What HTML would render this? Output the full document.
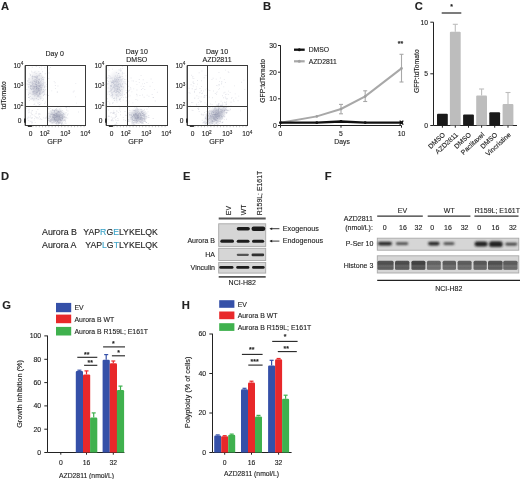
<!DOCTYPE html><html><head><meta charset="utf-8"><style>html,body{margin:0;padding:0;background:#fff;}svg{display:block;filter:blur(0.25px);}</style></head><body><svg width="520" height="479" viewBox="0 0 520 479" font-family='"Liberation Sans", Arial, sans-serif'><style>text{fill:#222;stroke:#222;stroke-width:0.12px}</style><rect width="520" height="479" fill="#fff"/><text x="1" y="10.3" font-size="11.2" fill="#111" stroke="#111" font-weight="bold">A</text>
<text x="263" y="10.3" font-size="11.2" fill="#111" stroke="#111" font-weight="bold">B</text>
<text x="414.7" y="10.3" font-size="11.2" fill="#111" stroke="#111" font-weight="bold">C</text>
<text x="1" y="179.6" font-size="11.2" fill="#111" stroke="#111" font-weight="bold">D</text>
<text x="182.9" y="179.6" font-size="11.2" fill="#111" stroke="#111" font-weight="bold">E</text>
<text x="324.8" y="179.6" font-size="11.2" fill="#111" stroke="#111" font-weight="bold">F</text>
<text x="2.3" y="308.9" font-size="11.2" fill="#111" stroke="#111" font-weight="bold">G</text>
<text x="181.7" y="308.9" font-size="11.2" fill="#111" stroke="#111" font-weight="bold">H</text>
<text x="54.7" y="55.9" font-size="7" text-anchor="middle">Day 0</text>
<clipPath id="cp0"><rect x="25.5" y="65.5" width="60" height="60"/></clipPath><g clip-path="url(#cp0)">
<defs><radialGradient id="g10"><stop offset="0" stop-color="#8c90a8" stop-opacity="0.42"/><stop offset="0.6" stop-color="#8c90a8" stop-opacity="0.189"/><stop offset="1" stop-color="#8c90a8" stop-opacity="0"/></radialGradient></defs>
<ellipse cx="36.5" cy="86.5" rx="10" ry="17" fill="url(#g10)"/>
<defs><radialGradient id="g12"><stop offset="0" stop-color="#8a90a8" stop-opacity="0.55"/><stop offset="0.6" stop-color="#8a90a8" stop-opacity="0.24750000000000003"/><stop offset="1" stop-color="#8a90a8" stop-opacity="0"/></radialGradient></defs>
<ellipse cx="56.5" cy="116.5" rx="11" ry="8.5" fill="url(#g12)"/>
<path d="M35.4 90.3h0.9v0.9h-0.9zM41.3 89.7h0.9v0.9h-0.9zM29.3 92.9h0.9v0.9h-0.9zM32.7 83.0h0.9v0.9h-0.9zM37.8 89.5h0.9v0.9h-0.9zM33.8 81.0h0.9v0.9h-0.9zM34.6 79.3h0.9v0.9h-0.9zM38.3 75.3h0.9v0.9h-0.9zM36.0 80.4h0.9v0.9h-0.9zM39.4 93.6h0.9v0.9h-0.9zM39.1 81.9h0.9v0.9h-0.9zM42.0 71.3h0.9v0.9h-0.9zM28.3 67.6h0.9v0.9h-0.9zM41.2 87.7h0.9v0.9h-0.9zM38.7 90.6h0.9v0.9h-0.9zM28.0 81.7h0.9v0.9h-0.9zM30.9 98.6h0.9v0.9h-0.9zM37.0 95.1h0.9v0.9h-0.9zM32.7 93.6h0.9v0.9h-0.9zM35.9 84.3h0.9v0.9h-0.9zM33.1 91.2h0.9v0.9h-0.9zM37.2 90.8h0.9v0.9h-0.9zM39.8 90.7h0.9v0.9h-0.9zM36.4 93.4h0.9v0.9h-0.9zM31.7 88.3h0.9v0.9h-0.9zM37.7 82.6h0.9v0.9h-0.9zM35.5 86.0h0.9v0.9h-0.9zM40.2 97.7h0.9v0.9h-0.9zM41.2 66.4h0.9v0.9h-0.9zM37.3 95.5h0.9v0.9h-0.9zM36.1 98.0h0.9v0.9h-0.9zM40.4 84.5h0.9v0.9h-0.9zM29.9 75.2h0.9v0.9h-0.9zM41.9 92.1h0.9v0.9h-0.9zM39.8 98.4h0.9v0.9h-0.9zM28.0 97.0h0.9v0.9h-0.9zM42.9 78.8h0.9v0.9h-0.9zM33.3 94.1h0.9v0.9h-0.9zM26.6 83.6h0.9v0.9h-0.9zM36.5 92.7h0.9v0.9h-0.9zM42.9 98.6h0.9v0.9h-0.9zM28.1 94.5h0.9v0.9h-0.9zM34.0 88.3h0.9v0.9h-0.9zM35.6 77.1h0.9v0.9h-0.9zM40.8 92.4h0.9v0.9h-0.9zM29.8 81.7h0.9v0.9h-0.9zM29.9 85.6h0.9v0.9h-0.9zM33.7 71.9h0.9v0.9h-0.9zM37.8 83.1h0.9v0.9h-0.9zM42.2 91.4h0.9v0.9h-0.9zM35.2 83.0h0.9v0.9h-0.9zM32.5 91.7h0.9v0.9h-0.9zM32.6 85.8h0.9v0.9h-0.9zM32.1 83.8h0.9v0.9h-0.9zM48.0 95.0h0.9v0.9h-0.9zM43.7 89.7h0.9v0.9h-0.9zM37.9 81.2h0.9v0.9h-0.9zM37.8 87.9h0.9v0.9h-0.9zM31.4 76.4h0.9v0.9h-0.9zM32.8 88.5h0.9v0.9h-0.9zM33.4 85.6h0.9v0.9h-0.9zM35.1 92.4h0.9v0.9h-0.9zM36.0 87.7h0.9v0.9h-0.9zM38.3 94.4h0.9v0.9h-0.9zM28.3 86.9h0.9v0.9h-0.9zM32.0 98.3h0.9v0.9h-0.9zM38.6 87.8h0.9v0.9h-0.9zM43.6 93.8h0.9v0.9h-0.9zM35.2 94.5h0.9v0.9h-0.9zM41.8 84.9h0.9v0.9h-0.9zM40.7 86.5h0.9v0.9h-0.9zM39.9 86.7h0.9v0.9h-0.9zM35.5 91.6h0.9v0.9h-0.9zM34.6 71.4h0.9v0.9h-0.9zM35.5 75.9h0.9v0.9h-0.9zM35.7 72.9h0.9v0.9h-0.9zM39.2 73.3h0.9v0.9h-0.9zM36.6 88.4h0.9v0.9h-0.9zM30.9 82.7h0.9v0.9h-0.9zM38.6 74.6h0.9v0.9h-0.9zM36.2 80.8h0.9v0.9h-0.9zM35.8 66.1h0.9v0.9h-0.9zM37.1 76.2h0.9v0.9h-0.9zM36.3 80.1h0.9v0.9h-0.9zM33.4 76.3h0.9v0.9h-0.9zM34.4 87.3h0.9v0.9h-0.9zM41.2 87.4h0.9v0.9h-0.9zM39.1 104.0h0.9v0.9h-0.9zM38.7 85.3h0.9v0.9h-0.9zM37.6 102.4h0.9v0.9h-0.9zM33.0 88.4h0.9v0.9h-0.9zM43.7 86.6h0.9v0.9h-0.9zM39.4 82.9h0.9v0.9h-0.9zM33.6 92.6h0.9v0.9h-0.9zM34.3 103.6h0.9v0.9h-0.9zM29.0 99.9h0.9v0.9h-0.9zM41.6 83.1h0.9v0.9h-0.9zM36.6 75.7h0.9v0.9h-0.9zM32.6 87.7h0.9v0.9h-0.9zM34.5 81.2h0.9v0.9h-0.9zM38.9 102.2h0.9v0.9h-0.9zM34.3 87.8h0.9v0.9h-0.9zM36.7 92.3h0.9v0.9h-0.9zM32.0 91.2h0.9v0.9h-0.9zM38.7 85.7h0.9v0.9h-0.9zM36.1 92.1h0.9v0.9h-0.9zM37.1 85.4h0.9v0.9h-0.9zM36.4 86.4h0.9v0.9h-0.9zM39.7 85.5h0.9v0.9h-0.9zM42.9 82.2h0.9v0.9h-0.9zM43.8 89.7h0.9v0.9h-0.9zM38.8 90.6h0.9v0.9h-0.9zM30.9 85.0h0.9v0.9h-0.9zM35.0 94.4h0.9v0.9h-0.9zM36.8 92.1h0.9v0.9h-0.9zM30.1 86.6h0.9v0.9h-0.9zM36.7 88.5h0.9v0.9h-0.9zM38.6 74.7h0.9v0.9h-0.9zM37.8 81.6h0.9v0.9h-0.9zM33.7 86.6h0.9v0.9h-0.9zM39.1 92.5h0.9v0.9h-0.9zM40.5 89.3h0.9v0.9h-0.9zM40.5 102.7h0.9v0.9h-0.9zM33.8 91.3h0.9v0.9h-0.9zM38.6 85.4h0.9v0.9h-0.9zM38.5 79.3h0.9v0.9h-0.9z" fill="#6c7290" fill-opacity="0.22"/>
<path d="M35.5 84.1h0.9v0.9h-0.9zM41.0 88.4h0.9v0.9h-0.9zM38.7 90.2h0.9v0.9h-0.9zM37.8 86.2h0.9v0.9h-0.9zM33.7 99.4h0.9v0.9h-0.9zM35.0 85.7h0.9v0.9h-0.9zM34.3 95.7h0.9v0.9h-0.9zM36.7 96.3h0.9v0.9h-0.9zM38.6 86.0h0.9v0.9h-0.9zM42.7 89.2h0.9v0.9h-0.9zM34.6 77.0h0.9v0.9h-0.9zM30.2 88.3h0.9v0.9h-0.9zM38.0 81.0h0.9v0.9h-0.9zM37.6 89.8h0.9v0.9h-0.9zM29.8 96.1h0.9v0.9h-0.9zM40.1 72.9h0.9v0.9h-0.9zM38.9 85.4h0.9v0.9h-0.9zM33.7 83.4h0.9v0.9h-0.9zM42.8 83.2h0.9v0.9h-0.9zM42.5 78.8h0.9v0.9h-0.9zM41.4 92.9h0.9v0.9h-0.9zM35.7 88.6h0.9v0.9h-0.9zM45.1 88.9h0.9v0.9h-0.9zM35.1 89.4h0.9v0.9h-0.9zM38.2 88.3h0.9v0.9h-0.9zM46.9 89.2h0.9v0.9h-0.9zM40.8 77.7h0.9v0.9h-0.9zM29.2 83.8h0.9v0.9h-0.9zM41.2 75.6h0.9v0.9h-0.9zM35.9 87.9h0.9v0.9h-0.9zM41.0 84.3h0.9v0.9h-0.9zM37.1 91.8h0.9v0.9h-0.9zM39.1 79.3h0.9v0.9h-0.9zM42.8 79.5h0.9v0.9h-0.9zM32.7 98.2h0.9v0.9h-0.9zM36.1 82.0h0.9v0.9h-0.9zM41.4 97.7h0.9v0.9h-0.9zM37.0 87.4h0.9v0.9h-0.9zM28.5 92.6h0.9v0.9h-0.9zM36.8 96.4h0.9v0.9h-0.9zM33.6 93.1h0.9v0.9h-0.9zM31.2 86.4h0.9v0.9h-0.9zM44.2 86.8h0.9v0.9h-0.9zM34.1 94.6h0.9v0.9h-0.9zM36.5 92.5h0.9v0.9h-0.9zM40.5 82.3h0.9v0.9h-0.9zM31.4 89.2h0.9v0.9h-0.9zM39.6 84.4h0.9v0.9h-0.9zM39.9 92.1h0.9v0.9h-0.9zM38.4 70.9h0.9v0.9h-0.9zM44.8 73.3h0.9v0.9h-0.9zM44.6 85.6h0.9v0.9h-0.9zM37.8 92.7h0.9v0.9h-0.9zM40.3 87.3h0.9v0.9h-0.9zM39.2 67.1h0.9v0.9h-0.9zM36.2 90.4h0.9v0.9h-0.9zM42.2 100.1h0.9v0.9h-0.9zM34.8 79.2h0.9v0.9h-0.9zM43.8 93.9h0.9v0.9h-0.9zM27.2 80.9h0.9v0.9h-0.9zM38.5 89.3h0.9v0.9h-0.9zM36.7 80.3h0.9v0.9h-0.9zM36.5 87.8h0.9v0.9h-0.9zM38.4 85.1h0.9v0.9h-0.9zM32.5 92.0h0.9v0.9h-0.9zM34.9 76.2h0.9v0.9h-0.9zM42.9 91.8h0.9v0.9h-0.9zM40.9 78.4h0.9v0.9h-0.9zM39.1 93.3h0.9v0.9h-0.9zM36.9 106.0h0.9v0.9h-0.9zM31.5 87.9h0.9v0.9h-0.9zM40.2 90.5h0.9v0.9h-0.9zM32.0 81.8h0.9v0.9h-0.9zM33.6 90.8h0.9v0.9h-0.9zM44.4 90.4h0.9v0.9h-0.9zM39.9 93.5h0.9v0.9h-0.9zM28.7 78.5h0.9v0.9h-0.9zM39.2 91.8h0.9v0.9h-0.9zM31.9 78.4h0.9v0.9h-0.9zM31.2 86.3h0.9v0.9h-0.9zM39.5 89.2h0.9v0.9h-0.9zM32.3 86.8h0.9v0.9h-0.9zM35.4 84.1h0.9v0.9h-0.9zM35.9 86.0h0.9v0.9h-0.9zM34.9 80.9h0.9v0.9h-0.9zM38.8 83.4h0.9v0.9h-0.9zM41.3 68.7h0.9v0.9h-0.9zM37.9 96.1h0.9v0.9h-0.9zM38.7 78.4h0.9v0.9h-0.9zM35.5 86.6h0.9v0.9h-0.9zM39.0 91.8h0.9v0.9h-0.9zM37.7 83.3h0.9v0.9h-0.9zM33.5 91.9h0.9v0.9h-0.9zM36.3 88.8h0.9v0.9h-0.9zM36.5 92.4h0.9v0.9h-0.9zM42.4 77.4h0.9v0.9h-0.9zM36.2 84.2h0.9v0.9h-0.9zM36.2 88.8h0.9v0.9h-0.9zM34.4 98.2h0.9v0.9h-0.9zM32.5 83.9h0.9v0.9h-0.9zM33.5 86.6h0.9v0.9h-0.9zM37.2 89.6h0.9v0.9h-0.9zM28.4 79.9h0.9v0.9h-0.9zM33.7 91.3h0.9v0.9h-0.9zM30.4 86.3h0.9v0.9h-0.9zM32.7 91.3h0.9v0.9h-0.9zM43.1 88.9h0.9v0.9h-0.9zM28.9 97.3h0.9v0.9h-0.9zM38.4 89.2h0.9v0.9h-0.9zM32.1 76.3h0.9v0.9h-0.9zM37.6 103.3h0.9v0.9h-0.9zM32.1 77.7h0.9v0.9h-0.9zM34.2 90.0h0.9v0.9h-0.9zM42.5 83.7h0.9v0.9h-0.9zM43.0 83.6h0.9v0.9h-0.9zM33.6 89.3h0.9v0.9h-0.9zM34.1 93.2h0.9v0.9h-0.9zM33.6 86.3h0.9v0.9h-0.9zM37.8 99.0h0.9v0.9h-0.9zM37.2 94.2h0.9v0.9h-0.9zM39.2 106.2h0.9v0.9h-0.9zM43.7 77.2h0.9v0.9h-0.9zM36.5 84.6h0.9v0.9h-0.9zM36.7 87.0h0.9v0.9h-0.9zM39.4 85.4h0.9v0.9h-0.9zM41.1 89.1h0.9v0.9h-0.9z" fill="#6c7290" fill-opacity="0.22"/>
<path d="M32.5 84.9h0.9v0.9h-0.9zM38.2 87.9h0.9v0.9h-0.9zM29.2 73.4h0.9v0.9h-0.9zM38.7 81.7h0.9v0.9h-0.9zM38.9 95.5h0.9v0.9h-0.9zM39.2 88.4h0.9v0.9h-0.9zM33.0 88.3h0.9v0.9h-0.9zM27.8 84.1h0.9v0.9h-0.9zM30.2 92.7h0.9v0.9h-0.9zM37.0 76.8h0.9v0.9h-0.9zM32.3 82.5h0.9v0.9h-0.9zM42.7 90.8h0.9v0.9h-0.9zM31.7 93.8h0.9v0.9h-0.9zM43.4 91.1h0.9v0.9h-0.9zM40.6 90.5h0.9v0.9h-0.9zM35.7 94.1h0.9v0.9h-0.9zM37.9 91.4h0.9v0.9h-0.9zM41.0 86.7h0.9v0.9h-0.9zM30.6 85.5h0.9v0.9h-0.9zM41.9 77.0h0.9v0.9h-0.9zM38.0 87.6h0.9v0.9h-0.9zM39.0 86.5h0.9v0.9h-0.9zM34.7 83.7h0.9v0.9h-0.9zM44.4 67.3h0.9v0.9h-0.9zM34.6 91.4h0.9v0.9h-0.9zM34.1 85.8h0.9v0.9h-0.9zM36.2 93.7h0.9v0.9h-0.9zM35.0 91.2h0.9v0.9h-0.9zM39.4 75.3h0.9v0.9h-0.9zM39.9 87.6h0.9v0.9h-0.9zM48.3 77.9h0.9v0.9h-0.9zM37.5 91.3h0.9v0.9h-0.9zM32.1 75.5h0.9v0.9h-0.9zM36.5 77.9h0.9v0.9h-0.9zM40.7 85.2h0.9v0.9h-0.9zM38.2 89.6h0.9v0.9h-0.9zM42.7 85.1h0.9v0.9h-0.9zM42.6 84.5h0.9v0.9h-0.9zM37.9 81.9h0.9v0.9h-0.9zM36.2 94.3h0.9v0.9h-0.9zM28.4 78.4h0.9v0.9h-0.9zM35.7 86.3h0.9v0.9h-0.9zM38.8 94.0h0.9v0.9h-0.9zM29.4 82.0h0.9v0.9h-0.9zM37.2 77.7h0.9v0.9h-0.9zM32.6 80.7h0.9v0.9h-0.9zM26.4 89.0h0.9v0.9h-0.9zM26.9 79.9h0.9v0.9h-0.9zM39.4 88.9h0.9v0.9h-0.9zM40.4 96.3h0.9v0.9h-0.9zM38.5 104.7h0.9v0.9h-0.9zM38.9 93.3h0.9v0.9h-0.9zM36.4 85.0h0.9v0.9h-0.9zM32.8 80.2h0.9v0.9h-0.9zM39.2 90.1h0.9v0.9h-0.9zM28.1 94.2h0.9v0.9h-0.9zM30.5 81.5h0.9v0.9h-0.9zM45.6 94.3h0.9v0.9h-0.9zM44.3 92.6h0.9v0.9h-0.9zM36.2 90.4h0.9v0.9h-0.9zM39.2 88.1h0.9v0.9h-0.9zM33.8 86.5h0.9v0.9h-0.9zM35.9 77.1h0.9v0.9h-0.9zM38.4 79.3h0.9v0.9h-0.9zM31.8 66.8h0.9v0.9h-0.9zM33.2 90.4h0.9v0.9h-0.9zM36.4 91.0h0.9v0.9h-0.9zM35.9 92.0h0.9v0.9h-0.9zM35.6 105.6h0.9v0.9h-0.9zM35.0 93.1h0.9v0.9h-0.9zM38.0 95.0h0.9v0.9h-0.9zM37.4 86.9h0.9v0.9h-0.9zM36.5 75.5h0.9v0.9h-0.9zM38.9 86.1h0.9v0.9h-0.9zM41.2 79.9h0.9v0.9h-0.9zM28.3 86.1h0.9v0.9h-0.9zM33.8 76.0h0.9v0.9h-0.9zM43.0 95.2h0.9v0.9h-0.9zM36.2 86.5h0.9v0.9h-0.9zM35.6 84.2h0.9v0.9h-0.9zM36.1 81.5h0.9v0.9h-0.9zM30.0 88.0h0.9v0.9h-0.9zM38.5 91.1h0.9v0.9h-0.9zM39.7 88.7h0.9v0.9h-0.9zM31.7 85.6h0.9v0.9h-0.9zM46.5 84.1h0.9v0.9h-0.9zM33.3 88.4h0.9v0.9h-0.9zM39.8 93.6h0.9v0.9h-0.9zM41.6 78.9h0.9v0.9h-0.9zM41.5 86.7h0.9v0.9h-0.9zM33.2 99.6h0.9v0.9h-0.9zM42.6 81.2h0.9v0.9h-0.9zM42.2 86.4h0.9v0.9h-0.9zM43.0 95.0h0.9v0.9h-0.9zM33.7 86.2h0.9v0.9h-0.9zM30.0 74.3h0.9v0.9h-0.9zM36.0 78.3h0.9v0.9h-0.9zM38.5 84.8h0.9v0.9h-0.9zM39.8 85.6h0.9v0.9h-0.9zM37.8 90.4h0.9v0.9h-0.9zM48.5 72.5h0.9v0.9h-0.9zM35.5 89.2h0.9v0.9h-0.9zM36.5 78.8h0.9v0.9h-0.9zM39.7 88.8h0.9v0.9h-0.9zM38.5 82.5h0.9v0.9h-0.9zM44.5 82.3h0.9v0.9h-0.9zM40.4 81.3h0.9v0.9h-0.9zM40.4 73.4h0.9v0.9h-0.9zM30.1 84.9h0.9v0.9h-0.9zM31.2 89.0h0.9v0.9h-0.9zM34.3 81.4h0.9v0.9h-0.9zM37.8 88.4h0.9v0.9h-0.9zM36.0 85.9h0.9v0.9h-0.9zM40.1 80.8h0.9v0.9h-0.9zM36.2 88.0h0.9v0.9h-0.9zM31.6 71.7h0.9v0.9h-0.9zM35.3 82.0h0.9v0.9h-0.9zM40.2 85.3h0.9v0.9h-0.9zM33.5 104.2h0.9v0.9h-0.9zM31.2 70.7h0.9v0.9h-0.9zM37.4 88.4h0.9v0.9h-0.9zM40.0 83.7h0.9v0.9h-0.9zM34.4 80.2h0.9v0.9h-0.9zM35.8 93.4h0.9v0.9h-0.9zM31.5 97.4h0.9v0.9h-0.9zM29.8 98.6h0.9v0.9h-0.9z" fill="#6c7290" fill-opacity="0.22"/>
<path d="M58.0 120.4h0.9v0.9h-0.9zM56.6 115.9h0.9v0.9h-0.9zM56.3 108.9h0.9v0.9h-0.9zM56.0 123.0h0.9v0.9h-0.9zM61.9 114.3h0.9v0.9h-0.9zM67.0 114.5h0.9v0.9h-0.9zM59.0 115.9h0.9v0.9h-0.9zM53.4 114.9h0.9v0.9h-0.9zM58.9 123.0h0.9v0.9h-0.9zM66.2 109.5h0.9v0.9h-0.9zM55.3 113.0h0.9v0.9h-0.9zM56.4 109.6h0.9v0.9h-0.9zM52.6 115.5h0.9v0.9h-0.9zM61.7 123.5h0.9v0.9h-0.9zM58.8 111.8h0.9v0.9h-0.9zM61.8 109.9h0.9v0.9h-0.9zM62.2 116.2h0.9v0.9h-0.9zM56.0 123.6h0.9v0.9h-0.9zM57.4 120.6h0.9v0.9h-0.9zM54.8 114.9h0.9v0.9h-0.9zM55.4 119.4h0.9v0.9h-0.9zM52.1 119.9h0.9v0.9h-0.9zM53.5 118.7h0.9v0.9h-0.9zM66.3 107.3h0.9v0.9h-0.9zM66.0 117.3h0.9v0.9h-0.9zM54.0 117.6h0.9v0.9h-0.9zM61.7 119.8h0.9v0.9h-0.9zM46.6 115.9h0.9v0.9h-0.9zM57.2 118.9h0.9v0.9h-0.9zM60.4 115.3h0.9v0.9h-0.9zM57.2 114.4h0.9v0.9h-0.9zM57.4 120.8h0.9v0.9h-0.9zM55.0 109.0h0.9v0.9h-0.9zM57.7 115.4h0.9v0.9h-0.9zM51.4 119.4h0.9v0.9h-0.9zM62.5 117.8h0.9v0.9h-0.9zM53.8 117.6h0.9v0.9h-0.9zM60.5 119.2h0.9v0.9h-0.9zM55.7 110.4h0.9v0.9h-0.9zM58.8 116.4h0.9v0.9h-0.9zM45.5 117.5h0.9v0.9h-0.9zM60.2 118.4h0.9v0.9h-0.9zM57.5 115.1h0.9v0.9h-0.9zM52.6 116.9h0.9v0.9h-0.9zM60.3 122.8h0.9v0.9h-0.9zM60.4 113.5h0.9v0.9h-0.9zM57.5 114.2h0.9v0.9h-0.9zM53.9 117.8h0.9v0.9h-0.9zM48.4 108.6h0.9v0.9h-0.9zM58.9 117.5h0.9v0.9h-0.9zM58.6 119.0h0.9v0.9h-0.9zM59.7 119.2h0.9v0.9h-0.9zM52.9 114.0h0.9v0.9h-0.9zM61.7 120.1h0.9v0.9h-0.9zM62.8 117.4h0.9v0.9h-0.9zM63.1 114.6h0.9v0.9h-0.9zM63.6 119.4h0.9v0.9h-0.9zM58.4 121.9h0.9v0.9h-0.9zM55.1 120.0h0.9v0.9h-0.9zM65.0 117.3h0.9v0.9h-0.9zM56.8 118.8h0.9v0.9h-0.9zM53.6 110.1h0.9v0.9h-0.9zM57.8 112.5h0.9v0.9h-0.9zM57.1 116.5h0.9v0.9h-0.9zM56.4 113.6h0.9v0.9h-0.9zM50.3 107.9h0.9v0.9h-0.9zM50.0 119.3h0.9v0.9h-0.9zM65.0 120.9h0.9v0.9h-0.9zM55.1 118.7h0.9v0.9h-0.9zM54.2 111.1h0.9v0.9h-0.9zM60.4 109.7h0.9v0.9h-0.9zM58.8 118.6h0.9v0.9h-0.9zM51.0 111.7h0.9v0.9h-0.9zM56.6 114.4h0.9v0.9h-0.9zM55.1 122.9h0.9v0.9h-0.9zM60.1 112.8h0.9v0.9h-0.9zM52.6 121.9h0.9v0.9h-0.9zM57.6 114.9h0.9v0.9h-0.9zM61.6 117.1h0.9v0.9h-0.9zM51.7 122.9h0.9v0.9h-0.9zM61.3 120.4h0.9v0.9h-0.9zM53.6 114.4h0.9v0.9h-0.9zM57.3 116.4h0.9v0.9h-0.9zM49.9 122.4h0.9v0.9h-0.9zM56.6 111.5h0.9v0.9h-0.9zM52.7 111.7h0.9v0.9h-0.9zM59.9 120.0h0.9v0.9h-0.9zM54.0 110.0h0.9v0.9h-0.9zM53.9 116.7h0.9v0.9h-0.9zM65.5 122.8h0.9v0.9h-0.9zM56.0 113.0h0.9v0.9h-0.9zM55.6 117.6h0.9v0.9h-0.9zM53.2 113.9h0.9v0.9h-0.9zM60.4 114.8h0.9v0.9h-0.9zM54.9 109.3h0.9v0.9h-0.9zM53.5 113.8h0.9v0.9h-0.9zM57.9 111.1h0.9v0.9h-0.9zM53.2 114.3h0.9v0.9h-0.9zM57.3 113.3h0.9v0.9h-0.9zM60.6 122.6h0.9v0.9h-0.9zM49.7 115.5h0.9v0.9h-0.9zM47.5 121.9h0.9v0.9h-0.9zM55.6 118.0h0.9v0.9h-0.9zM50.5 119.8h0.9v0.9h-0.9zM61.5 115.3h0.9v0.9h-0.9zM61.7 121.8h0.9v0.9h-0.9zM52.7 121.3h0.9v0.9h-0.9zM54.3 116.4h0.9v0.9h-0.9zM54.1 119.0h0.9v0.9h-0.9zM55.9 119.8h0.9v0.9h-0.9zM54.2 114.0h0.9v0.9h-0.9zM62.9 113.3h0.9v0.9h-0.9zM67.3 117.7h0.9v0.9h-0.9zM57.3 123.5h0.9v0.9h-0.9zM61.1 124.0h0.9v0.9h-0.9zM58.5 109.9h0.9v0.9h-0.9zM48.1 120.0h0.9v0.9h-0.9z" fill="#6c7290" fill-opacity="0.24"/>
<path d="M57.4 116.4h0.9v0.9h-0.9zM58.0 117.3h0.9v0.9h-0.9zM54.6 119.6h0.9v0.9h-0.9zM55.1 119.8h0.9v0.9h-0.9zM57.4 116.7h0.9v0.9h-0.9zM54.0 118.9h0.9v0.9h-0.9zM58.8 111.1h0.9v0.9h-0.9zM54.7 120.3h0.9v0.9h-0.9zM56.5 118.4h0.9v0.9h-0.9zM56.3 118.6h0.9v0.9h-0.9zM57.0 120.9h0.9v0.9h-0.9zM55.4 115.3h0.9v0.9h-0.9zM56.3 114.5h0.9v0.9h-0.9zM53.1 115.4h0.9v0.9h-0.9zM58.5 116.9h0.9v0.9h-0.9zM60.1 117.8h0.9v0.9h-0.9zM60.3 115.4h0.9v0.9h-0.9zM58.5 116.4h0.9v0.9h-0.9zM58.4 119.0h0.9v0.9h-0.9zM60.4 117.2h0.9v0.9h-0.9zM58.1 112.4h0.9v0.9h-0.9zM55.3 115.7h0.9v0.9h-0.9zM54.3 121.5h0.9v0.9h-0.9zM54.6 118.9h0.9v0.9h-0.9zM49.3 120.2h0.9v0.9h-0.9zM62.0 117.4h0.9v0.9h-0.9zM52.9 120.3h0.9v0.9h-0.9zM60.5 119.8h0.9v0.9h-0.9zM67.7 113.4h0.9v0.9h-0.9zM61.5 114.0h0.9v0.9h-0.9zM49.5 121.2h0.9v0.9h-0.9zM52.2 116.6h0.9v0.9h-0.9zM62.0 118.2h0.9v0.9h-0.9zM52.0 114.2h0.9v0.9h-0.9zM50.7 119.5h0.9v0.9h-0.9zM53.3 117.2h0.9v0.9h-0.9zM54.4 117.3h0.9v0.9h-0.9zM55.2 116.9h0.9v0.9h-0.9zM55.0 116.9h0.9v0.9h-0.9zM65.6 107.1h0.9v0.9h-0.9zM58.8 115.9h0.9v0.9h-0.9zM56.6 114.8h0.9v0.9h-0.9zM46.6 116.9h0.9v0.9h-0.9zM59.2 117.6h0.9v0.9h-0.9zM60.6 120.1h0.9v0.9h-0.9zM48.5 113.2h0.9v0.9h-0.9zM62.3 116.7h0.9v0.9h-0.9zM56.4 115.8h0.9v0.9h-0.9zM50.9 114.1h0.9v0.9h-0.9zM53.0 114.3h0.9v0.9h-0.9zM56.0 116.3h0.9v0.9h-0.9zM57.4 122.0h0.9v0.9h-0.9zM63.3 123.7h0.9v0.9h-0.9zM61.8 112.2h0.9v0.9h-0.9zM52.7 115.7h0.9v0.9h-0.9zM61.7 118.3h0.9v0.9h-0.9zM62.1 117.4h0.9v0.9h-0.9zM50.2 116.8h0.9v0.9h-0.9zM65.3 119.4h0.9v0.9h-0.9zM56.4 112.8h0.9v0.9h-0.9zM56.6 118.1h0.9v0.9h-0.9zM55.7 114.1h0.9v0.9h-0.9zM55.9 122.4h0.9v0.9h-0.9zM56.3 119.8h0.9v0.9h-0.9zM59.4 114.7h0.9v0.9h-0.9zM48.2 118.4h0.9v0.9h-0.9zM53.1 115.6h0.9v0.9h-0.9zM57.1 117.7h0.9v0.9h-0.9zM57.8 117.2h0.9v0.9h-0.9zM61.9 119.0h0.9v0.9h-0.9zM64.6 120.1h0.9v0.9h-0.9zM57.4 117.7h0.9v0.9h-0.9zM54.0 114.7h0.9v0.9h-0.9zM54.6 120.6h0.9v0.9h-0.9zM53.9 119.5h0.9v0.9h-0.9zM61.0 117.8h0.9v0.9h-0.9zM53.5 116.4h0.9v0.9h-0.9zM59.5 117.0h0.9v0.9h-0.9zM48.7 117.4h0.9v0.9h-0.9zM55.9 119.6h0.9v0.9h-0.9zM63.3 120.3h0.9v0.9h-0.9zM52.9 119.2h0.9v0.9h-0.9zM57.4 119.9h0.9v0.9h-0.9zM57.0 121.2h0.9v0.9h-0.9zM54.2 119.8h0.9v0.9h-0.9zM58.8 120.6h0.9v0.9h-0.9zM58.9 115.1h0.9v0.9h-0.9zM57.9 118.8h0.9v0.9h-0.9zM55.2 119.2h0.9v0.9h-0.9zM60.0 119.2h0.9v0.9h-0.9zM58.6 122.1h0.9v0.9h-0.9zM50.2 121.0h0.9v0.9h-0.9zM60.3 121.0h0.9v0.9h-0.9zM50.0 114.2h0.9v0.9h-0.9zM57.5 111.2h0.9v0.9h-0.9zM54.1 121.9h0.9v0.9h-0.9zM54.2 114.9h0.9v0.9h-0.9zM51.9 109.2h0.9v0.9h-0.9zM44.6 117.7h0.9v0.9h-0.9zM61.5 115.3h0.9v0.9h-0.9zM50.2 116.6h0.9v0.9h-0.9zM58.2 122.6h0.9v0.9h-0.9zM55.8 120.8h0.9v0.9h-0.9zM54.4 119.4h0.9v0.9h-0.9zM58.0 123.7h0.9v0.9h-0.9zM58.8 112.0h0.9v0.9h-0.9zM59.9 110.6h0.9v0.9h-0.9zM58.6 113.9h0.9v0.9h-0.9zM54.0 118.1h0.9v0.9h-0.9zM54.9 121.1h0.9v0.9h-0.9zM64.3 113.8h0.9v0.9h-0.9zM61.8 122.5h0.9v0.9h-0.9zM54.6 114.6h0.9v0.9h-0.9zM55.1 118.8h0.9v0.9h-0.9zM50.5 112.8h0.9v0.9h-0.9zM58.7 122.5h0.9v0.9h-0.9z" fill="#6c7290" fill-opacity="0.24"/>
<path d="M49.7 120.7h0.9v0.9h-0.9zM59.5 115.6h0.9v0.9h-0.9zM62.4 115.6h0.9v0.9h-0.9zM63.9 117.2h0.9v0.9h-0.9zM57.0 121.3h0.9v0.9h-0.9zM51.9 118.9h0.9v0.9h-0.9zM59.8 111.1h0.9v0.9h-0.9zM56.9 115.5h0.9v0.9h-0.9zM62.0 118.0h0.9v0.9h-0.9zM60.7 119.5h0.9v0.9h-0.9zM51.7 113.1h0.9v0.9h-0.9zM58.5 114.3h0.9v0.9h-0.9zM56.6 119.9h0.9v0.9h-0.9zM53.3 116.9h0.9v0.9h-0.9zM48.5 118.1h0.9v0.9h-0.9zM58.6 118.7h0.9v0.9h-0.9zM59.7 113.9h0.9v0.9h-0.9zM51.5 114.0h0.9v0.9h-0.9zM56.3 122.1h0.9v0.9h-0.9zM55.3 114.8h0.9v0.9h-0.9zM58.4 117.7h0.9v0.9h-0.9zM60.0 122.0h0.9v0.9h-0.9zM53.7 120.1h0.9v0.9h-0.9zM56.1 114.5h0.9v0.9h-0.9zM48.9 121.4h0.9v0.9h-0.9zM50.4 110.6h0.9v0.9h-0.9zM58.7 119.5h0.9v0.9h-0.9zM60.4 107.7h0.9v0.9h-0.9zM55.1 117.1h0.9v0.9h-0.9zM57.7 115.0h0.9v0.9h-0.9zM57.8 114.9h0.9v0.9h-0.9zM58.9 119.0h0.9v0.9h-0.9zM56.6 115.9h0.9v0.9h-0.9zM53.9 114.7h0.9v0.9h-0.9zM52.0 118.3h0.9v0.9h-0.9zM57.2 110.4h0.9v0.9h-0.9zM59.7 119.9h0.9v0.9h-0.9zM55.3 115.8h0.9v0.9h-0.9zM52.2 116.9h0.9v0.9h-0.9zM55.6 110.1h0.9v0.9h-0.9zM58.9 108.5h0.9v0.9h-0.9zM59.3 115.2h0.9v0.9h-0.9zM57.4 119.9h0.9v0.9h-0.9zM52.5 109.7h0.9v0.9h-0.9zM53.8 114.3h0.9v0.9h-0.9zM53.5 114.2h0.9v0.9h-0.9zM51.7 122.0h0.9v0.9h-0.9zM57.9 114.4h0.9v0.9h-0.9zM56.4 117.2h0.9v0.9h-0.9zM47.2 116.4h0.9v0.9h-0.9zM60.6 117.1h0.9v0.9h-0.9zM54.0 115.6h0.9v0.9h-0.9zM56.6 119.2h0.9v0.9h-0.9zM53.7 118.7h0.9v0.9h-0.9zM53.6 113.7h0.9v0.9h-0.9zM53.8 118.6h0.9v0.9h-0.9zM58.8 116.2h0.9v0.9h-0.9zM57.6 114.8h0.9v0.9h-0.9zM57.9 111.1h0.9v0.9h-0.9zM56.2 112.8h0.9v0.9h-0.9zM52.8 122.4h0.9v0.9h-0.9zM52.1 115.7h0.9v0.9h-0.9zM59.5 116.4h0.9v0.9h-0.9zM56.1 107.9h0.9v0.9h-0.9zM51.9 112.7h0.9v0.9h-0.9zM53.7 109.9h0.9v0.9h-0.9zM58.0 122.2h0.9v0.9h-0.9zM64.4 122.4h0.9v0.9h-0.9zM54.3 112.0h0.9v0.9h-0.9zM51.2 122.3h0.9v0.9h-0.9zM65.6 112.3h0.9v0.9h-0.9zM61.1 111.3h0.9v0.9h-0.9zM58.1 118.0h0.9v0.9h-0.9zM59.9 117.4h0.9v0.9h-0.9zM61.6 116.0h0.9v0.9h-0.9zM49.5 119.5h0.9v0.9h-0.9zM57.7 115.7h0.9v0.9h-0.9zM57.4 106.5h0.9v0.9h-0.9zM58.6 121.1h0.9v0.9h-0.9zM54.9 112.8h0.9v0.9h-0.9zM54.0 110.7h0.9v0.9h-0.9zM57.9 116.0h0.9v0.9h-0.9zM60.7 114.4h0.9v0.9h-0.9zM49.3 115.7h0.9v0.9h-0.9zM61.2 123.1h0.9v0.9h-0.9zM57.3 112.1h0.9v0.9h-0.9zM57.8 120.0h0.9v0.9h-0.9zM56.6 120.4h0.9v0.9h-0.9zM63.5 116.0h0.9v0.9h-0.9zM64.3 116.3h0.9v0.9h-0.9zM58.8 118.6h0.9v0.9h-0.9zM54.7 112.8h0.9v0.9h-0.9zM50.5 120.5h0.9v0.9h-0.9zM53.7 118.3h0.9v0.9h-0.9zM60.5 112.4h0.9v0.9h-0.9zM60.2 119.3h0.9v0.9h-0.9zM52.2 118.9h0.9v0.9h-0.9zM59.1 122.1h0.9v0.9h-0.9zM61.9 118.1h0.9v0.9h-0.9zM61.1 119.9h0.9v0.9h-0.9zM59.0 112.9h0.9v0.9h-0.9zM50.7 121.0h0.9v0.9h-0.9zM61.1 117.3h0.9v0.9h-0.9zM57.7 123.2h0.9v0.9h-0.9zM54.1 118.6h0.9v0.9h-0.9zM51.0 117.9h0.9v0.9h-0.9zM52.9 117.6h0.9v0.9h-0.9zM58.6 114.6h0.9v0.9h-0.9zM63.5 117.1h0.9v0.9h-0.9zM50.9 119.4h0.9v0.9h-0.9zM64.2 119.5h0.9v0.9h-0.9zM56.0 116.5h0.9v0.9h-0.9zM58.5 118.3h0.9v0.9h-0.9zM62.9 113.2h0.9v0.9h-0.9zM51.9 110.0h0.9v0.9h-0.9zM49.4 115.8h0.9v0.9h-0.9z" fill="#6c7290" fill-opacity="0.24"/>
<path d="M29.8 115.7h0.9v0.9h-0.9zM30.8 117.6h0.9v0.9h-0.9zM27.2 118.3h0.9v0.9h-0.9zM35.4 116.5h0.9v0.9h-0.9zM28.7 106.4h0.9v0.9h-0.9zM32.1 110.1h0.9v0.9h-0.9zM27.9 120.0h0.9v0.9h-0.9zM29.5 116.9h0.9v0.9h-0.9zM31.5 123.3h0.9v0.9h-0.9zM38.2 112.9h0.9v0.9h-0.9zM39.5 113.8h0.9v0.9h-0.9zM28.3 112.3h0.9v0.9h-0.9zM30.7 112.2h0.9v0.9h-0.9zM35.2 106.1h0.9v0.9h-0.9zM29.9 115.5h0.9v0.9h-0.9zM26.2 107.9h0.9v0.9h-0.9zM35.9 110.9h0.9v0.9h-0.9zM39.1 116.3h0.9v0.9h-0.9z" fill="#a4a8bc" fill-opacity="0.3"/>
<path d="M33.8 119.7h0.9v0.9h-0.9zM27.6 117.3h0.9v0.9h-0.9zM28.6 108.7h0.9v0.9h-0.9zM28.9 111.6h0.9v0.9h-0.9zM27.8 116.6h0.9v0.9h-0.9zM29.7 121.2h0.9v0.9h-0.9zM35.4 113.3h0.9v0.9h-0.9zM28.5 109.7h0.9v0.9h-0.9zM27.7 110.4h0.9v0.9h-0.9zM37.5 118.3h0.9v0.9h-0.9zM28.7 109.6h0.9v0.9h-0.9zM31.3 110.6h0.9v0.9h-0.9zM33.7 114.7h0.9v0.9h-0.9zM30.8 113.0h0.9v0.9h-0.9zM31.8 122.0h0.9v0.9h-0.9zM39.6 119.2h0.9v0.9h-0.9zM38.2 114.3h0.9v0.9h-0.9zM31.5 118.2h0.9v0.9h-0.9z" fill="#a4a8bc" fill-opacity="0.3"/>
<path d="M31.8 117.1h0.9v0.9h-0.9zM43.1 117.4h0.9v0.9h-0.9zM29.8 120.7h0.9v0.9h-0.9zM40.2 118.2h0.9v0.9h-0.9zM34.6 116.2h0.9v0.9h-0.9zM34.8 122.2h0.9v0.9h-0.9zM35.9 112.5h0.9v0.9h-0.9zM31.4 120.8h0.9v0.9h-0.9zM41.3 119.0h0.9v0.9h-0.9zM36.7 117.1h0.9v0.9h-0.9zM39.3 113.3h0.9v0.9h-0.9zM32.0 113.9h0.9v0.9h-0.9zM34.1 118.2h0.9v0.9h-0.9zM37.4 109.1h0.9v0.9h-0.9zM31.3 121.8h0.9v0.9h-0.9zM35.9 117.6h0.9v0.9h-0.9zM38.4 117.4h0.9v0.9h-0.9zM31.4 114.3h0.9v0.9h-0.9z" fill="#a4a8bc" fill-opacity="0.3"/>
<path d="M56.7 91.7h0.9v0.9h-0.9zM76.1 102.7h0.9v0.9h-0.9zM54.7 82.3h0.9v0.9h-0.9zM54.9 85.0h0.9v0.9h-0.9zM54.7 121.0h0.9v0.9h-0.9zM57.5 85.5h0.9v0.9h-0.9zM51.3 90.4h0.9v0.9h-0.9zM68.7 106.9h0.9v0.9h-0.9zM39.6 103.9h0.9v0.9h-0.9zM49.0 68.5h0.9v0.9h-0.9z" fill="#a4a8bc" fill-opacity="0.3"/>
<path d="M73.7 90.5h0.9v0.9h-0.9zM57.1 91.6h0.9v0.9h-0.9zM75.2 96.4h0.9v0.9h-0.9zM42.5 76.4h0.9v0.9h-0.9zM55.1 88.2h0.9v0.9h-0.9zM48.2 108.0h0.9v0.9h-0.9zM44.9 101.6h0.9v0.9h-0.9zM44.2 103.1h0.9v0.9h-0.9zM75.3 82.9h0.9v0.9h-0.9zM47.4 104.2h0.9v0.9h-0.9z" fill="#a4a8bc" fill-opacity="0.3"/>
<path d="M78.1 111.6h0.9v0.9h-0.9zM53.8 81.2h0.9v0.9h-0.9zM50.1 67.0h0.9v0.9h-0.9zM28.5 96.8h0.9v0.9h-0.9zM72.8 91.6h0.9v0.9h-0.9zM67.5 110.6h0.9v0.9h-0.9zM38.8 96.8h0.9v0.9h-0.9zM46.9 80.9h0.9v0.9h-0.9zM46.4 85.9h0.9v0.9h-0.9z" fill="#a4a8bc" fill-opacity="0.3"/>
</g>
<rect x="25.5" y="65.5" width="60" height="60" fill="none" stroke="#3a3a3a" stroke-width="1"/>
<line x1="24.9" y1="65.5" x2="24.9" y2="125.5" stroke="#555" stroke-width="0.8"/>
<line x1="47.5" y1="65.5" x2="47.5" y2="125.5" stroke="#3a3a3a" stroke-width="1"/>
<line x1="25.5" y1="106.5" x2="85.5" y2="106.5" stroke="#3a3a3a" stroke-width="1"/>
<text x="23.3" y="67.8" font-size="6.6" text-anchor="end">10<tspan font-size="4.6" dy="-2.6">4</tspan></text>
<text x="23.3" y="88.4" font-size="6.6" text-anchor="end">10<tspan font-size="4.6" dy="-2.6">3</tspan></text>
<text x="23.3" y="108.6" font-size="6.6" text-anchor="end">10<tspan font-size="4.6" dy="-2.6">2</tspan></text>
<text x="21.3" y="123" font-size="6.6" text-anchor="end">0</text>
<text x="30.6" y="136.2" font-size="6.6" text-anchor="middle">0</text>
<text x="44.7" y="136.2" font-size="6.6" text-anchor="middle">10<tspan font-size="4.6" dy="-2.6">2</tspan></text>
<text x="65.3" y="136.2" font-size="6.6" text-anchor="middle">10<tspan font-size="4.6" dy="-2.6">3</tspan></text>
<text x="85.3" y="136.2" font-size="6.6" text-anchor="middle">10<tspan font-size="4.6" dy="-2.6">4</tspan></text>
<text x="54.6" y="144.4" font-size="7.2" text-anchor="middle">GFP</text>
<line x1="32.5" y1="126.7" x2="85.5" y2="126.7" stroke="#9a9a9a" stroke-width="0.8" stroke-dasharray="0.8 2.4"/>
<line x1="24.9" y1="118.6" x2="24.9" y2="122.7" stroke="#222" stroke-width="1.6"/>
<line x1="27.8" y1="126.2" x2="31.9" y2="126.2" stroke="#222" stroke-width="1.4"/>
<text x="136.8" y="53.6" font-size="7" text-anchor="middle">Day 10</text>
<text x="136.8" y="61.6" font-size="7" text-anchor="middle">DMSO</text>
<clipPath id="cp1"><rect x="106.5" y="65.5" width="61" height="60"/></clipPath><g clip-path="url(#cp1)">
<defs><radialGradient id="g46"><stop offset="0" stop-color="#989cb4" stop-opacity="0.35"/><stop offset="0.6" stop-color="#989cb4" stop-opacity="0.1575"/><stop offset="1" stop-color="#989cb4" stop-opacity="0"/></radialGradient></defs>
<ellipse cx="116.5" cy="86" rx="10" ry="17" fill="url(#g46)"/>
<defs><radialGradient id="g48"><stop offset="0" stop-color="#8a90a8" stop-opacity="0.5"/><stop offset="0.6" stop-color="#8a90a8" stop-opacity="0.225"/><stop offset="1" stop-color="#8a90a8" stop-opacity="0"/></radialGradient></defs>
<ellipse cx="137.5" cy="116" rx="11" ry="8.5" fill="url(#g48)"/>
<path d="M125.8 83.7h0.9v0.9h-0.9zM111.1 95.0h0.9v0.9h-0.9zM120.4 86.1h0.9v0.9h-0.9zM125.6 90.2h0.9v0.9h-0.9zM121.9 73.6h0.9v0.9h-0.9zM108.1 81.0h0.9v0.9h-0.9zM110.6 78.0h0.9v0.9h-0.9zM117.9 76.9h0.9v0.9h-0.9zM107.1 77.3h0.9v0.9h-0.9zM117.7 91.2h0.9v0.9h-0.9zM111.6 91.9h0.9v0.9h-0.9zM122.1 93.4h0.9v0.9h-0.9zM115.5 85.8h0.9v0.9h-0.9zM112.9 83.3h0.9v0.9h-0.9zM121.9 66.1h0.9v0.9h-0.9zM117.9 87.4h0.9v0.9h-0.9zM112.4 81.1h0.9v0.9h-0.9zM108.6 69.6h0.9v0.9h-0.9zM131.6 80.4h0.9v0.9h-0.9zM125.4 75.4h0.9v0.9h-0.9zM107.7 66.3h0.9v0.9h-0.9zM109.4 78.2h0.9v0.9h-0.9zM113.5 86.6h0.9v0.9h-0.9zM115.8 80.5h0.9v0.9h-0.9zM123.5 72.8h0.9v0.9h-0.9zM120.4 76.0h0.9v0.9h-0.9zM114.6 82.6h0.9v0.9h-0.9zM122.7 99.6h0.9v0.9h-0.9zM118.9 79.5h0.9v0.9h-0.9zM126.9 101.5h0.9v0.9h-0.9zM112.4 87.0h0.9v0.9h-0.9zM119.9 90.0h0.9v0.9h-0.9zM117.4 85.8h0.9v0.9h-0.9zM119.5 77.0h0.9v0.9h-0.9zM114.0 84.0h0.9v0.9h-0.9zM118.4 87.7h0.9v0.9h-0.9zM110.5 77.3h0.9v0.9h-0.9zM115.9 77.3h0.9v0.9h-0.9zM122.0 71.8h0.9v0.9h-0.9zM119.2 81.2h0.9v0.9h-0.9zM111.9 94.3h0.9v0.9h-0.9zM122.2 95.3h0.9v0.9h-0.9zM110.4 95.6h0.9v0.9h-0.9zM110.4 85.1h0.9v0.9h-0.9zM117.5 89.6h0.9v0.9h-0.9zM115.5 80.7h0.9v0.9h-0.9zM115.8 82.2h0.9v0.9h-0.9zM110.6 86.4h0.9v0.9h-0.9zM108.2 76.8h0.9v0.9h-0.9zM121.9 68.2h0.9v0.9h-0.9zM107.1 98.3h0.9v0.9h-0.9zM120.2 68.3h0.9v0.9h-0.9zM127.8 80.8h0.9v0.9h-0.9zM114.6 85.4h0.9v0.9h-0.9zM125.0 83.2h0.9v0.9h-0.9zM117.5 84.5h0.9v0.9h-0.9zM113.8 81.5h0.9v0.9h-0.9zM114.0 97.5h0.9v0.9h-0.9zM115.9 95.5h0.9v0.9h-0.9zM115.1 94.4h0.9v0.9h-0.9zM120.2 76.1h0.9v0.9h-0.9zM110.4 88.6h0.9v0.9h-0.9zM117.6 96.0h0.9v0.9h-0.9zM118.9 81.2h0.9v0.9h-0.9zM114.1 100.0h0.9v0.9h-0.9zM121.1 89.2h0.9v0.9h-0.9zM124.4 82.5h0.9v0.9h-0.9zM109.2 74.9h0.9v0.9h-0.9zM116.8 76.4h0.9v0.9h-0.9zM116.8 85.4h0.9v0.9h-0.9zM118.6 69.1h0.9v0.9h-0.9zM115.8 79.0h0.9v0.9h-0.9zM118.7 69.9h0.9v0.9h-0.9zM120.5 94.8h0.9v0.9h-0.9zM121.8 72.5h0.9v0.9h-0.9zM111.1 82.0h0.9v0.9h-0.9zM114.5 78.2h0.9v0.9h-0.9zM113.8 76.7h0.9v0.9h-0.9zM107.3 78.1h0.9v0.9h-0.9zM121.1 85.8h0.9v0.9h-0.9zM125.8 83.9h0.9v0.9h-0.9zM120.5 80.3h0.9v0.9h-0.9zM117.7 91.0h0.9v0.9h-0.9zM109.0 93.9h0.9v0.9h-0.9zM120.1 76.5h0.9v0.9h-0.9zM115.8 98.2h0.9v0.9h-0.9zM116.6 82.0h0.9v0.9h-0.9zM109.6 76.0h0.9v0.9h-0.9zM115.5 78.2h0.9v0.9h-0.9zM112.5 82.1h0.9v0.9h-0.9zM110.0 90.4h0.9v0.9h-0.9zM112.3 102.7h0.9v0.9h-0.9zM115.8 80.1h0.9v0.9h-0.9zM116.6 91.2h0.9v0.9h-0.9zM114.2 84.4h0.9v0.9h-0.9zM123.2 97.1h0.9v0.9h-0.9zM116.6 88.3h0.9v0.9h-0.9zM119.8 89.7h0.9v0.9h-0.9zM117.5 81.3h0.9v0.9h-0.9zM119.7 106.2h0.9v0.9h-0.9zM115.5 79.6h0.9v0.9h-0.9zM113.8 82.3h0.9v0.9h-0.9z" fill="#7a80a0" fill-opacity="0.2"/>
<path d="M113.0 81.7h0.9v0.9h-0.9zM108.0 75.2h0.9v0.9h-0.9zM110.6 91.3h0.9v0.9h-0.9zM120.3 70.2h0.9v0.9h-0.9zM112.1 68.7h0.9v0.9h-0.9zM119.1 99.5h0.9v0.9h-0.9zM113.2 87.2h0.9v0.9h-0.9zM124.2 94.1h0.9v0.9h-0.9zM121.1 79.2h0.9v0.9h-0.9zM119.8 98.0h0.9v0.9h-0.9zM117.4 88.1h0.9v0.9h-0.9zM117.2 81.2h0.9v0.9h-0.9zM131.4 91.4h0.9v0.9h-0.9zM117.5 77.2h0.9v0.9h-0.9zM116.5 88.4h0.9v0.9h-0.9zM107.0 79.9h0.9v0.9h-0.9zM125.7 100.7h0.9v0.9h-0.9zM114.1 78.6h0.9v0.9h-0.9zM116.7 88.3h0.9v0.9h-0.9zM117.3 83.7h0.9v0.9h-0.9zM119.1 87.6h0.9v0.9h-0.9zM120.0 90.6h0.9v0.9h-0.9zM116.7 90.7h0.9v0.9h-0.9zM127.7 90.4h0.9v0.9h-0.9zM120.0 93.1h0.9v0.9h-0.9zM112.1 88.3h0.9v0.9h-0.9zM116.8 88.9h0.9v0.9h-0.9zM116.0 94.7h0.9v0.9h-0.9zM119.4 94.6h0.9v0.9h-0.9zM126.4 92.3h0.9v0.9h-0.9zM116.3 91.7h0.9v0.9h-0.9zM117.9 84.2h0.9v0.9h-0.9zM118.1 78.7h0.9v0.9h-0.9zM118.6 94.4h0.9v0.9h-0.9zM120.1 99.2h0.9v0.9h-0.9zM112.0 79.7h0.9v0.9h-0.9zM119.0 75.6h0.9v0.9h-0.9zM116.2 83.2h0.9v0.9h-0.9zM115.6 86.1h0.9v0.9h-0.9zM120.2 100.8h0.9v0.9h-0.9zM122.6 86.3h0.9v0.9h-0.9zM120.6 70.4h0.9v0.9h-0.9zM125.9 92.5h0.9v0.9h-0.9zM115.5 85.6h0.9v0.9h-0.9zM116.5 101.7h0.9v0.9h-0.9zM123.2 87.3h0.9v0.9h-0.9zM121.9 76.1h0.9v0.9h-0.9zM116.0 90.3h0.9v0.9h-0.9zM120.4 94.9h0.9v0.9h-0.9zM112.5 91.7h0.9v0.9h-0.9zM117.3 78.4h0.9v0.9h-0.9zM120.4 70.9h0.9v0.9h-0.9zM116.5 94.9h0.9v0.9h-0.9zM111.1 90.1h0.9v0.9h-0.9zM123.0 81.4h0.9v0.9h-0.9zM114.0 80.8h0.9v0.9h-0.9zM111.2 84.8h0.9v0.9h-0.9zM121.4 93.8h0.9v0.9h-0.9zM113.7 85.0h0.9v0.9h-0.9zM115.6 92.2h0.9v0.9h-0.9zM109.9 80.7h0.9v0.9h-0.9zM112.2 79.8h0.9v0.9h-0.9zM111.6 93.6h0.9v0.9h-0.9zM111.1 82.6h0.9v0.9h-0.9zM117.5 88.7h0.9v0.9h-0.9zM108.9 91.1h0.9v0.9h-0.9zM119.1 92.4h0.9v0.9h-0.9zM119.1 76.7h0.9v0.9h-0.9zM118.2 73.0h0.9v0.9h-0.9zM117.2 74.8h0.9v0.9h-0.9zM112.7 80.8h0.9v0.9h-0.9zM111.6 92.9h0.9v0.9h-0.9zM111.1 86.0h0.9v0.9h-0.9zM114.6 84.2h0.9v0.9h-0.9zM119.8 84.5h0.9v0.9h-0.9zM124.1 79.0h0.9v0.9h-0.9zM112.3 94.9h0.9v0.9h-0.9zM120.4 90.8h0.9v0.9h-0.9zM122.1 83.8h0.9v0.9h-0.9zM107.5 83.1h0.9v0.9h-0.9zM114.1 85.7h0.9v0.9h-0.9zM118.8 91.9h0.9v0.9h-0.9zM111.8 77.6h0.9v0.9h-0.9zM113.8 98.2h0.9v0.9h-0.9zM114.9 81.1h0.9v0.9h-0.9zM111.9 82.1h0.9v0.9h-0.9zM119.0 89.1h0.9v0.9h-0.9zM117.2 86.5h0.9v0.9h-0.9zM118.4 91.9h0.9v0.9h-0.9zM111.8 88.6h0.9v0.9h-0.9zM116.5 88.5h0.9v0.9h-0.9zM118.2 79.4h0.9v0.9h-0.9zM112.8 102.2h0.9v0.9h-0.9zM114.5 90.2h0.9v0.9h-0.9zM111.7 84.2h0.9v0.9h-0.9zM114.3 91.1h0.9v0.9h-0.9zM114.2 79.3h0.9v0.9h-0.9zM117.8 82.2h0.9v0.9h-0.9zM111.7 96.9h0.9v0.9h-0.9zM112.9 85.8h0.9v0.9h-0.9zM121.9 79.3h0.9v0.9h-0.9zM118.3 82.9h0.9v0.9h-0.9z" fill="#7a80a0" fill-opacity="0.2"/>
<path d="M107.1 93.7h0.9v0.9h-0.9zM117.9 79.5h0.9v0.9h-0.9zM120.7 69.7h0.9v0.9h-0.9zM112.9 83.0h0.9v0.9h-0.9zM115.3 88.9h0.9v0.9h-0.9zM119.8 83.4h0.9v0.9h-0.9zM116.3 100.2h0.9v0.9h-0.9zM117.0 79.9h0.9v0.9h-0.9zM109.9 87.7h0.9v0.9h-0.9zM112.3 94.3h0.9v0.9h-0.9zM121.3 85.9h0.9v0.9h-0.9zM112.7 81.5h0.9v0.9h-0.9zM120.3 78.7h0.9v0.9h-0.9zM124.6 81.2h0.9v0.9h-0.9zM117.5 91.1h0.9v0.9h-0.9zM118.0 84.3h0.9v0.9h-0.9zM116.2 96.9h0.9v0.9h-0.9zM113.7 87.6h0.9v0.9h-0.9zM116.3 93.9h0.9v0.9h-0.9zM118.3 73.0h0.9v0.9h-0.9zM114.6 79.6h0.9v0.9h-0.9zM116.4 90.4h0.9v0.9h-0.9zM116.2 84.8h0.9v0.9h-0.9zM118.6 105.5h0.9v0.9h-0.9zM125.9 97.2h0.9v0.9h-0.9zM119.0 77.3h0.9v0.9h-0.9zM115.1 75.5h0.9v0.9h-0.9zM118.7 91.6h0.9v0.9h-0.9zM112.0 102.7h0.9v0.9h-0.9zM114.8 80.9h0.9v0.9h-0.9zM127.9 85.8h0.9v0.9h-0.9zM115.9 79.0h0.9v0.9h-0.9zM116.7 86.4h0.9v0.9h-0.9zM119.5 82.9h0.9v0.9h-0.9zM115.7 80.5h0.9v0.9h-0.9zM116.0 91.7h0.9v0.9h-0.9zM117.0 89.0h0.9v0.9h-0.9zM118.2 78.9h0.9v0.9h-0.9zM121.3 80.8h0.9v0.9h-0.9zM114.5 89.8h0.9v0.9h-0.9zM110.8 89.4h0.9v0.9h-0.9zM113.1 98.1h0.9v0.9h-0.9zM122.1 83.2h0.9v0.9h-0.9zM120.0 84.8h0.9v0.9h-0.9zM118.7 86.7h0.9v0.9h-0.9zM111.1 81.2h0.9v0.9h-0.9zM119.0 87.2h0.9v0.9h-0.9zM114.2 88.6h0.9v0.9h-0.9zM116.4 80.9h0.9v0.9h-0.9zM119.8 77.2h0.9v0.9h-0.9zM116.8 93.7h0.9v0.9h-0.9zM122.2 89.4h0.9v0.9h-0.9zM113.3 80.0h0.9v0.9h-0.9zM119.2 86.6h0.9v0.9h-0.9zM120.3 69.6h0.9v0.9h-0.9zM114.8 79.9h0.9v0.9h-0.9zM120.4 83.9h0.9v0.9h-0.9zM122.3 83.2h0.9v0.9h-0.9zM118.4 89.2h0.9v0.9h-0.9zM121.9 91.6h0.9v0.9h-0.9zM118.9 98.8h0.9v0.9h-0.9zM115.1 91.9h0.9v0.9h-0.9zM121.2 86.6h0.9v0.9h-0.9zM113.3 110.6h0.9v0.9h-0.9zM120.2 79.4h0.9v0.9h-0.9zM119.3 89.8h0.9v0.9h-0.9zM112.0 96.2h0.9v0.9h-0.9zM115.9 72.0h0.9v0.9h-0.9zM118.7 83.7h0.9v0.9h-0.9zM111.8 82.1h0.9v0.9h-0.9zM111.2 88.8h0.9v0.9h-0.9zM113.2 91.0h0.9v0.9h-0.9zM118.2 92.6h0.9v0.9h-0.9zM120.4 82.4h0.9v0.9h-0.9zM118.1 86.2h0.9v0.9h-0.9zM110.5 84.9h0.9v0.9h-0.9zM109.3 102.6h0.9v0.9h-0.9zM111.3 92.4h0.9v0.9h-0.9zM110.0 90.4h0.9v0.9h-0.9zM118.6 92.5h0.9v0.9h-0.9zM122.5 78.0h0.9v0.9h-0.9zM110.6 85.3h0.9v0.9h-0.9zM115.5 84.1h0.9v0.9h-0.9zM120.8 86.2h0.9v0.9h-0.9zM110.2 86.1h0.9v0.9h-0.9zM118.6 89.4h0.9v0.9h-0.9zM107.3 83.8h0.9v0.9h-0.9zM117.1 78.6h0.9v0.9h-0.9zM125.3 96.8h0.9v0.9h-0.9zM126.4 92.0h0.9v0.9h-0.9zM125.4 79.0h0.9v0.9h-0.9zM116.7 94.4h0.9v0.9h-0.9zM107.7 87.5h0.9v0.9h-0.9zM120.6 84.7h0.9v0.9h-0.9zM115.0 87.8h0.9v0.9h-0.9zM118.0 92.5h0.9v0.9h-0.9zM120.9 97.0h0.9v0.9h-0.9zM107.6 91.6h0.9v0.9h-0.9zM107.5 101.0h0.9v0.9h-0.9zM114.0 87.3h0.9v0.9h-0.9zM114.0 90.7h0.9v0.9h-0.9zM110.3 85.1h0.9v0.9h-0.9z" fill="#7a80a0" fill-opacity="0.2"/>
<path d="M136.4 123.0h0.9v0.9h-0.9zM135.9 117.5h0.9v0.9h-0.9zM142.5 119.6h0.9v0.9h-0.9zM136.2 119.0h0.9v0.9h-0.9zM144.8 112.9h0.9v0.9h-0.9zM144.9 117.6h0.9v0.9h-0.9zM136.3 113.8h0.9v0.9h-0.9zM145.8 122.1h0.9v0.9h-0.9zM139.2 118.6h0.9v0.9h-0.9zM135.5 114.7h0.9v0.9h-0.9zM130.5 118.8h0.9v0.9h-0.9zM137.2 117.6h0.9v0.9h-0.9zM144.3 120.8h0.9v0.9h-0.9zM137.4 109.4h0.9v0.9h-0.9zM144.4 114.0h0.9v0.9h-0.9zM144.8 118.5h0.9v0.9h-0.9zM137.6 115.4h0.9v0.9h-0.9zM144.5 115.5h0.9v0.9h-0.9zM134.7 117.8h0.9v0.9h-0.9zM137.8 119.3h0.9v0.9h-0.9zM134.3 124.0h0.9v0.9h-0.9zM129.4 114.6h0.9v0.9h-0.9zM138.5 109.4h0.9v0.9h-0.9zM141.3 117.6h0.9v0.9h-0.9zM135.0 120.3h0.9v0.9h-0.9zM145.8 116.2h0.9v0.9h-0.9zM142.0 119.3h0.9v0.9h-0.9zM143.8 113.9h0.9v0.9h-0.9zM137.6 118.6h0.9v0.9h-0.9zM140.3 121.5h0.9v0.9h-0.9zM141.5 111.0h0.9v0.9h-0.9zM133.2 120.0h0.9v0.9h-0.9zM131.1 114.3h0.9v0.9h-0.9zM131.6 116.7h0.9v0.9h-0.9zM136.4 114.4h0.9v0.9h-0.9zM134.5 117.4h0.9v0.9h-0.9zM138.7 112.6h0.9v0.9h-0.9zM134.7 120.0h0.9v0.9h-0.9zM136.0 120.4h0.9v0.9h-0.9zM135.0 120.3h0.9v0.9h-0.9zM144.3 115.2h0.9v0.9h-0.9zM135.6 121.2h0.9v0.9h-0.9zM131.7 123.1h0.9v0.9h-0.9zM143.8 119.3h0.9v0.9h-0.9zM132.9 115.0h0.9v0.9h-0.9zM145.1 121.4h0.9v0.9h-0.9zM131.2 116.8h0.9v0.9h-0.9zM135.8 115.7h0.9v0.9h-0.9zM130.0 114.6h0.9v0.9h-0.9zM145.0 120.8h0.9v0.9h-0.9zM137.9 114.5h0.9v0.9h-0.9zM144.2 117.0h0.9v0.9h-0.9zM142.8 113.1h0.9v0.9h-0.9zM141.6 122.0h0.9v0.9h-0.9zM141.0 119.1h0.9v0.9h-0.9zM135.7 115.4h0.9v0.9h-0.9zM135.8 113.9h0.9v0.9h-0.9zM138.3 117.0h0.9v0.9h-0.9zM135.6 122.1h0.9v0.9h-0.9zM134.1 110.1h0.9v0.9h-0.9zM127.3 116.4h0.9v0.9h-0.9zM135.4 113.1h0.9v0.9h-0.9zM142.3 112.8h0.9v0.9h-0.9zM139.8 119.6h0.9v0.9h-0.9zM144.1 116.7h0.9v0.9h-0.9zM140.2 117.1h0.9v0.9h-0.9zM137.0 121.4h0.9v0.9h-0.9zM129.5 114.1h0.9v0.9h-0.9zM134.9 118.8h0.9v0.9h-0.9zM134.7 122.6h0.9v0.9h-0.9zM132.7 115.3h0.9v0.9h-0.9zM137.7 119.3h0.9v0.9h-0.9zM132.3 117.7h0.9v0.9h-0.9zM136.1 119.6h0.9v0.9h-0.9zM143.3 114.1h0.9v0.9h-0.9zM132.1 121.6h0.9v0.9h-0.9zM140.7 114.7h0.9v0.9h-0.9zM136.5 113.9h0.9v0.9h-0.9zM135.5 114.5h0.9v0.9h-0.9zM141.2 109.3h0.9v0.9h-0.9zM142.6 112.7h0.9v0.9h-0.9zM134.5 113.4h0.9v0.9h-0.9zM144.2 118.0h0.9v0.9h-0.9zM136.7 116.6h0.9v0.9h-0.9zM131.4 112.5h0.9v0.9h-0.9zM137.7 114.9h0.9v0.9h-0.9zM130.6 114.6h0.9v0.9h-0.9zM135.5 110.2h0.9v0.9h-0.9zM133.6 117.4h0.9v0.9h-0.9zM130.3 117.3h0.9v0.9h-0.9zM137.6 114.9h0.9v0.9h-0.9zM134.5 115.7h0.9v0.9h-0.9zM136.6 108.0h0.9v0.9h-0.9zM143.3 116.0h0.9v0.9h-0.9zM132.7 123.8h0.9v0.9h-0.9zM129.4 120.9h0.9v0.9h-0.9zM144.1 114.7h0.9v0.9h-0.9zM137.9 119.0h0.9v0.9h-0.9zM143.0 122.8h0.9v0.9h-0.9zM136.6 119.8h0.9v0.9h-0.9zM133.0 114.1h0.9v0.9h-0.9zM139.6 114.7h0.9v0.9h-0.9zM147.8 123.1h0.9v0.9h-0.9zM140.0 117.8h0.9v0.9h-0.9zM135.3 108.8h0.9v0.9h-0.9zM137.0 115.5h0.9v0.9h-0.9zM152.7 118.0h0.9v0.9h-0.9zM141.0 119.5h0.9v0.9h-0.9zM135.1 116.5h0.9v0.9h-0.9zM143.5 112.4h0.9v0.9h-0.9zM143.2 117.7h0.9v0.9h-0.9zM134.7 111.4h0.9v0.9h-0.9z" fill="#6c7290" fill-opacity="0.22"/>
<path d="M132.0 120.2h0.9v0.9h-0.9zM141.8 123.1h0.9v0.9h-0.9zM133.7 119.9h0.9v0.9h-0.9zM143.1 120.8h0.9v0.9h-0.9zM144.9 111.4h0.9v0.9h-0.9zM135.1 113.5h0.9v0.9h-0.9zM140.2 113.6h0.9v0.9h-0.9zM136.7 110.5h0.9v0.9h-0.9zM135.9 120.0h0.9v0.9h-0.9zM141.0 112.3h0.9v0.9h-0.9zM137.4 116.6h0.9v0.9h-0.9zM141.7 112.4h0.9v0.9h-0.9zM137.5 114.9h0.9v0.9h-0.9zM137.1 118.1h0.9v0.9h-0.9zM136.8 109.4h0.9v0.9h-0.9zM132.1 118.5h0.9v0.9h-0.9zM134.9 109.9h0.9v0.9h-0.9zM133.9 115.7h0.9v0.9h-0.9zM136.5 118.4h0.9v0.9h-0.9zM132.1 116.1h0.9v0.9h-0.9zM141.5 120.3h0.9v0.9h-0.9zM141.1 121.4h0.9v0.9h-0.9zM140.6 118.6h0.9v0.9h-0.9zM140.0 122.1h0.9v0.9h-0.9zM135.5 118.2h0.9v0.9h-0.9zM144.4 119.5h0.9v0.9h-0.9zM134.5 117.5h0.9v0.9h-0.9zM129.4 110.1h0.9v0.9h-0.9zM146.0 117.6h0.9v0.9h-0.9zM144.0 109.3h0.9v0.9h-0.9zM136.0 118.7h0.9v0.9h-0.9zM131.1 121.7h0.9v0.9h-0.9zM140.8 111.1h0.9v0.9h-0.9zM139.8 119.2h0.9v0.9h-0.9zM125.1 120.0h0.9v0.9h-0.9zM137.4 116.2h0.9v0.9h-0.9zM136.0 122.0h0.9v0.9h-0.9zM132.8 110.4h0.9v0.9h-0.9zM133.2 115.1h0.9v0.9h-0.9zM148.3 115.0h0.9v0.9h-0.9zM138.2 115.3h0.9v0.9h-0.9zM143.0 115.2h0.9v0.9h-0.9zM140.7 116.9h0.9v0.9h-0.9zM132.9 120.1h0.9v0.9h-0.9zM139.9 118.1h0.9v0.9h-0.9zM137.5 118.2h0.9v0.9h-0.9zM138.5 121.4h0.9v0.9h-0.9zM135.9 117.3h0.9v0.9h-0.9zM137.6 114.6h0.9v0.9h-0.9zM135.1 118.0h0.9v0.9h-0.9zM137.8 115.2h0.9v0.9h-0.9zM138.5 119.6h0.9v0.9h-0.9zM142.0 113.0h0.9v0.9h-0.9zM132.9 121.9h0.9v0.9h-0.9zM136.5 107.3h0.9v0.9h-0.9zM128.9 114.4h0.9v0.9h-0.9zM139.4 120.4h0.9v0.9h-0.9zM144.4 120.9h0.9v0.9h-0.9zM135.5 117.9h0.9v0.9h-0.9zM138.3 116.3h0.9v0.9h-0.9zM137.9 115.5h0.9v0.9h-0.9zM134.6 116.8h0.9v0.9h-0.9zM141.5 118.1h0.9v0.9h-0.9zM131.1 117.5h0.9v0.9h-0.9zM137.0 117.2h0.9v0.9h-0.9zM135.6 113.8h0.9v0.9h-0.9zM125.2 114.8h0.9v0.9h-0.9zM143.5 111.8h0.9v0.9h-0.9zM140.4 109.1h0.9v0.9h-0.9zM137.1 112.0h0.9v0.9h-0.9zM141.7 117.8h0.9v0.9h-0.9zM135.9 118.2h0.9v0.9h-0.9zM133.6 115.2h0.9v0.9h-0.9zM136.6 111.7h0.9v0.9h-0.9zM140.2 117.6h0.9v0.9h-0.9zM128.4 119.8h0.9v0.9h-0.9zM137.4 117.3h0.9v0.9h-0.9zM134.8 118.0h0.9v0.9h-0.9zM136.2 106.8h0.9v0.9h-0.9zM136.0 118.2h0.9v0.9h-0.9zM140.6 115.3h0.9v0.9h-0.9zM135.5 113.4h0.9v0.9h-0.9zM134.5 120.3h0.9v0.9h-0.9zM143.2 114.3h0.9v0.9h-0.9zM136.4 118.0h0.9v0.9h-0.9zM139.6 112.8h0.9v0.9h-0.9zM133.9 114.5h0.9v0.9h-0.9zM138.2 113.3h0.9v0.9h-0.9zM125.7 115.2h0.9v0.9h-0.9zM138.2 112.9h0.9v0.9h-0.9zM140.1 116.9h0.9v0.9h-0.9zM141.9 115.2h0.9v0.9h-0.9zM138.1 117.3h0.9v0.9h-0.9zM134.5 113.9h0.9v0.9h-0.9zM143.8 120.4h0.9v0.9h-0.9zM143.5 118.3h0.9v0.9h-0.9zM138.1 119.4h0.9v0.9h-0.9zM137.9 111.1h0.9v0.9h-0.9zM140.2 114.3h0.9v0.9h-0.9zM127.0 117.2h0.9v0.9h-0.9zM128.4 112.7h0.9v0.9h-0.9zM148.1 107.2h0.9v0.9h-0.9zM148.5 117.0h0.9v0.9h-0.9zM136.6 115.0h0.9v0.9h-0.9zM138.8 116.4h0.9v0.9h-0.9zM133.9 116.4h0.9v0.9h-0.9zM133.3 123.6h0.9v0.9h-0.9zM140.8 121.7h0.9v0.9h-0.9zM134.0 120.0h0.9v0.9h-0.9zM137.1 118.8h0.9v0.9h-0.9zM132.2 119.1h0.9v0.9h-0.9z" fill="#6c7290" fill-opacity="0.22"/>
<path d="M133.6 115.1h0.9v0.9h-0.9zM134.3 121.6h0.9v0.9h-0.9zM137.0 117.8h0.9v0.9h-0.9zM136.5 120.3h0.9v0.9h-0.9zM140.2 118.8h0.9v0.9h-0.9zM131.2 119.4h0.9v0.9h-0.9zM135.3 114.8h0.9v0.9h-0.9zM138.9 116.8h0.9v0.9h-0.9zM141.7 117.3h0.9v0.9h-0.9zM136.7 113.7h0.9v0.9h-0.9zM141.9 110.8h0.9v0.9h-0.9zM141.1 117.3h0.9v0.9h-0.9zM135.8 112.9h0.9v0.9h-0.9zM142.5 115.2h0.9v0.9h-0.9zM133.7 113.5h0.9v0.9h-0.9zM139.9 115.6h0.9v0.9h-0.9zM137.1 121.3h0.9v0.9h-0.9zM141.9 117.8h0.9v0.9h-0.9zM135.5 111.0h0.9v0.9h-0.9zM141.8 115.1h0.9v0.9h-0.9zM132.9 122.5h0.9v0.9h-0.9zM133.0 114.0h0.9v0.9h-0.9zM135.3 118.5h0.9v0.9h-0.9zM135.2 117.1h0.9v0.9h-0.9zM138.2 116.7h0.9v0.9h-0.9zM143.9 115.9h0.9v0.9h-0.9zM136.9 116.4h0.9v0.9h-0.9zM135.3 114.1h0.9v0.9h-0.9zM139.7 113.8h0.9v0.9h-0.9zM141.8 122.3h0.9v0.9h-0.9zM139.5 113.5h0.9v0.9h-0.9zM137.6 117.6h0.9v0.9h-0.9zM147.5 111.4h0.9v0.9h-0.9zM135.7 115.7h0.9v0.9h-0.9zM138.7 117.1h0.9v0.9h-0.9zM142.8 110.2h0.9v0.9h-0.9zM132.3 116.1h0.9v0.9h-0.9zM140.0 115.2h0.9v0.9h-0.9zM138.2 118.0h0.9v0.9h-0.9zM146.5 108.8h0.9v0.9h-0.9zM134.4 111.8h0.9v0.9h-0.9zM135.0 113.9h0.9v0.9h-0.9zM135.1 112.8h0.9v0.9h-0.9zM132.2 118.8h0.9v0.9h-0.9zM142.4 113.4h0.9v0.9h-0.9zM133.8 115.9h0.9v0.9h-0.9zM142.0 119.5h0.9v0.9h-0.9zM128.2 119.3h0.9v0.9h-0.9zM145.5 116.1h0.9v0.9h-0.9zM143.7 115.3h0.9v0.9h-0.9zM137.9 120.2h0.9v0.9h-0.9zM136.1 112.6h0.9v0.9h-0.9zM146.3 112.7h0.9v0.9h-0.9zM133.5 110.1h0.9v0.9h-0.9zM137.2 115.4h0.9v0.9h-0.9zM146.1 122.1h0.9v0.9h-0.9zM141.0 112.2h0.9v0.9h-0.9zM140.0 120.9h0.9v0.9h-0.9zM141.9 113.2h0.9v0.9h-0.9zM135.9 118.3h0.9v0.9h-0.9zM141.3 122.9h0.9v0.9h-0.9zM140.3 113.4h0.9v0.9h-0.9zM136.2 115.9h0.9v0.9h-0.9zM133.9 118.8h0.9v0.9h-0.9zM123.3 119.3h0.9v0.9h-0.9zM136.6 120.9h0.9v0.9h-0.9zM138.8 116.5h0.9v0.9h-0.9zM132.7 112.5h0.9v0.9h-0.9zM144.5 114.3h0.9v0.9h-0.9zM134.4 113.8h0.9v0.9h-0.9zM132.7 116.9h0.9v0.9h-0.9zM147.6 116.8h0.9v0.9h-0.9zM138.4 117.7h0.9v0.9h-0.9zM141.7 115.2h0.9v0.9h-0.9zM124.6 111.1h0.9v0.9h-0.9zM142.7 118.3h0.9v0.9h-0.9zM139.5 119.1h0.9v0.9h-0.9zM129.5 111.9h0.9v0.9h-0.9zM135.9 115.6h0.9v0.9h-0.9zM139.8 120.9h0.9v0.9h-0.9zM133.6 122.1h0.9v0.9h-0.9zM142.3 117.9h0.9v0.9h-0.9zM134.4 114.8h0.9v0.9h-0.9zM139.2 116.4h0.9v0.9h-0.9zM139.0 118.3h0.9v0.9h-0.9zM131.0 115.3h0.9v0.9h-0.9zM137.3 113.6h0.9v0.9h-0.9zM139.4 106.1h0.9v0.9h-0.9zM138.0 116.9h0.9v0.9h-0.9zM141.1 116.3h0.9v0.9h-0.9zM143.0 118.2h0.9v0.9h-0.9zM139.3 118.4h0.9v0.9h-0.9zM138.2 113.7h0.9v0.9h-0.9zM139.2 112.5h0.9v0.9h-0.9zM144.1 118.7h0.9v0.9h-0.9zM128.0 121.1h0.9v0.9h-0.9zM137.1 120.5h0.9v0.9h-0.9zM138.9 121.3h0.9v0.9h-0.9zM137.6 109.4h0.9v0.9h-0.9zM141.5 121.4h0.9v0.9h-0.9zM131.9 121.6h0.9v0.9h-0.9zM137.2 117.3h0.9v0.9h-0.9zM142.3 121.5h0.9v0.9h-0.9zM131.5 123.7h0.9v0.9h-0.9zM138.4 123.2h0.9v0.9h-0.9zM135.4 117.3h0.9v0.9h-0.9zM141.7 119.5h0.9v0.9h-0.9zM142.4 121.5h0.9v0.9h-0.9zM141.5 114.8h0.9v0.9h-0.9zM137.3 117.9h0.9v0.9h-0.9zM137.0 116.9h0.9v0.9h-0.9z" fill="#6c7290" fill-opacity="0.22"/>
<path d="M108.4 115.3h0.9v0.9h-0.9zM111.0 119.6h0.9v0.9h-0.9zM115.0 117.0h0.9v0.9h-0.9zM115.3 119.4h0.9v0.9h-0.9zM113.0 112.8h0.9v0.9h-0.9zM118.1 112.2h0.9v0.9h-0.9zM113.3 112.1h0.9v0.9h-0.9zM110.2 112.5h0.9v0.9h-0.9zM115.0 119.7h0.9v0.9h-0.9zM115.9 113.6h0.9v0.9h-0.9zM115.5 115.9h0.9v0.9h-0.9zM116.7 120.1h0.9v0.9h-0.9zM112.4 117.6h0.9v0.9h-0.9zM112.5 112.7h0.9v0.9h-0.9zM113.8 117.6h0.9v0.9h-0.9zM113.7 113.1h0.9v0.9h-0.9zM108.0 109.5h0.9v0.9h-0.9z" fill="#a4a8bc" fill-opacity="0.3"/>
<path d="M109.3 103.8h0.9v0.9h-0.9zM110.8 120.2h0.9v0.9h-0.9zM114.3 123.9h0.9v0.9h-0.9zM119.3 109.7h0.9v0.9h-0.9zM110.7 112.0h0.9v0.9h-0.9zM115.2 124.0h0.9v0.9h-0.9zM107.7 115.9h0.9v0.9h-0.9zM115.7 123.8h0.9v0.9h-0.9zM120.0 114.3h0.9v0.9h-0.9zM107.6 118.8h0.9v0.9h-0.9zM107.6 123.4h0.9v0.9h-0.9zM118.2 119.8h0.9v0.9h-0.9zM112.7 111.9h0.9v0.9h-0.9zM110.8 116.5h0.9v0.9h-0.9zM116.5 123.2h0.9v0.9h-0.9zM112.8 120.3h0.9v0.9h-0.9zM116.1 122.0h0.9v0.9h-0.9z" fill="#a4a8bc" fill-opacity="0.3"/>
<path d="M120.1 111.3h0.9v0.9h-0.9zM112.2 118.5h0.9v0.9h-0.9zM111.8 119.6h0.9v0.9h-0.9zM115.8 116.1h0.9v0.9h-0.9zM122.8 117.0h0.9v0.9h-0.9zM114.3 112.1h0.9v0.9h-0.9zM112.6 113.0h0.9v0.9h-0.9zM108.9 116.2h0.9v0.9h-0.9zM108.4 116.1h0.9v0.9h-0.9zM119.5 107.6h0.9v0.9h-0.9zM115.6 114.7h0.9v0.9h-0.9zM116.5 111.3h0.9v0.9h-0.9zM114.7 114.2h0.9v0.9h-0.9zM111.4 120.3h0.9v0.9h-0.9zM117.4 118.1h0.9v0.9h-0.9zM115.6 115.1h0.9v0.9h-0.9zM116.3 110.3h0.9v0.9h-0.9z" fill="#a4a8bc" fill-opacity="0.3"/>
<path d="M136.4 94.2h0.9v0.9h-0.9zM126.4 99.9h0.9v0.9h-0.9zM144.3 89.0h0.9v0.9h-0.9zM136.7 95.4h0.9v0.9h-0.9zM152.2 82.2h0.9v0.9h-0.9zM144.0 83.2h0.9v0.9h-0.9zM119.9 90.6h0.9v0.9h-0.9zM133.1 80.5h0.9v0.9h-0.9zM154.8 100.6h0.9v0.9h-0.9zM152.7 97.1h0.9v0.9h-0.9zM127.0 98.5h0.9v0.9h-0.9zM132.4 102.4h0.9v0.9h-0.9zM146.5 82.1h0.9v0.9h-0.9zM150.6 78.6h0.9v0.9h-0.9zM129.1 89.8h0.9v0.9h-0.9zM140.6 85.7h0.9v0.9h-0.9zM128.5 89.9h0.9v0.9h-0.9zM134.4 107.2h0.9v0.9h-0.9zM119.2 99.0h0.9v0.9h-0.9zM141.0 89.1h0.9v0.9h-0.9z" fill="#a4a8bc" fill-opacity="0.3"/>
<path d="M129.6 95.4h0.9v0.9h-0.9zM142.0 83.4h0.9v0.9h-0.9zM154.0 89.2h0.9v0.9h-0.9zM138.9 82.2h0.9v0.9h-0.9zM151.7 94.1h0.9v0.9h-0.9zM117.8 95.5h0.9v0.9h-0.9zM130.6 77.6h0.9v0.9h-0.9zM140.6 75.0h0.9v0.9h-0.9zM142.0 94.6h0.9v0.9h-0.9zM135.7 80.9h0.9v0.9h-0.9zM156.9 91.8h0.9v0.9h-0.9zM137.3 99.7h0.9v0.9h-0.9zM128.1 91.3h0.9v0.9h-0.9zM143.3 86.0h0.9v0.9h-0.9zM127.2 94.6h0.9v0.9h-0.9zM149.6 85.8h0.9v0.9h-0.9zM130.4 88.5h0.9v0.9h-0.9zM142.8 79.3h0.9v0.9h-0.9zM148.5 95.8h0.9v0.9h-0.9zM133.3 88.4h0.9v0.9h-0.9z" fill="#a4a8bc" fill-opacity="0.3"/>
<path d="M136.5 83.9h0.9v0.9h-0.9zM128.6 100.7h0.9v0.9h-0.9zM128.2 102.6h0.9v0.9h-0.9zM126.9 90.1h0.9v0.9h-0.9zM127.7 94.6h0.9v0.9h-0.9zM127.7 96.3h0.9v0.9h-0.9zM136.2 93.7h0.9v0.9h-0.9zM143.7 96.8h0.9v0.9h-0.9zM138.8 79.1h0.9v0.9h-0.9zM152.9 97.2h0.9v0.9h-0.9zM142.4 88.0h0.9v0.9h-0.9zM135.5 99.1h0.9v0.9h-0.9zM146.6 94.7h0.9v0.9h-0.9zM139.5 95.1h0.9v0.9h-0.9zM130.2 87.2h0.9v0.9h-0.9zM146.7 94.7h0.9v0.9h-0.9zM135.9 109.6h0.9v0.9h-0.9zM116.1 98.6h0.9v0.9h-0.9zM136.5 89.6h0.9v0.9h-0.9z" fill="#a4a8bc" fill-opacity="0.3"/>
</g>
<rect x="106.5" y="65.5" width="61" height="60" fill="none" stroke="#3a3a3a" stroke-width="1"/>
<line x1="105.9" y1="65.5" x2="105.9" y2="125.5" stroke="#555" stroke-width="0.8"/>
<line x1="127.5" y1="65.5" x2="127.5" y2="125.5" stroke="#3a3a3a" stroke-width="1"/>
<line x1="106.5" y1="106.5" x2="167.5" y2="106.5" stroke="#3a3a3a" stroke-width="1"/>
<text x="104.3" y="67.8" font-size="6.6" text-anchor="end">10<tspan font-size="4.6" dy="-2.6">4</tspan></text>
<text x="104.3" y="88.4" font-size="6.6" text-anchor="end">10<tspan font-size="4.6" dy="-2.6">3</tspan></text>
<text x="104.3" y="108.6" font-size="6.6" text-anchor="end">10<tspan font-size="4.6" dy="-2.6">2</tspan></text>
<text x="102.3" y="123" font-size="6.6" text-anchor="end">0</text>
<text x="111.6" y="136.2" font-size="6.6" text-anchor="middle">0</text>
<text x="125.7" y="136.2" font-size="6.6" text-anchor="middle">10<tspan font-size="4.6" dy="-2.6">2</tspan></text>
<text x="146.3" y="136.2" font-size="6.6" text-anchor="middle">10<tspan font-size="4.6" dy="-2.6">3</tspan></text>
<text x="166.3" y="136.2" font-size="6.6" text-anchor="middle">10<tspan font-size="4.6" dy="-2.6">4</tspan></text>
<text x="135.6" y="144.4" font-size="7.2" text-anchor="middle">GFP</text>
<line x1="113.5" y1="126.7" x2="167.5" y2="126.7" stroke="#9a9a9a" stroke-width="0.8" stroke-dasharray="0.8 2.4"/>
<line x1="105.9" y1="118.6" x2="105.9" y2="122.7" stroke="#222" stroke-width="1.6"/>
<line x1="108.8" y1="126.2" x2="112.9" y2="126.2" stroke="#222" stroke-width="1.4"/>
<text x="217" y="53.6" font-size="7" text-anchor="middle">Day 10</text>
<text x="217" y="61.6" font-size="7" text-anchor="middle">AZD2811</text>
<clipPath id="cp2"><rect x="187.5" y="65.5" width="60" height="60"/></clipPath><g clip-path="url(#cp2)">
<defs><radialGradient id="g82"><stop offset="0" stop-color="#8a90a8" stop-opacity="0.55"/><stop offset="0.6" stop-color="#8a90a8" stop-opacity="0.24750000000000003"/><stop offset="1" stop-color="#8a90a8" stop-opacity="0"/></radialGradient></defs>
<ellipse cx="215.5" cy="115" rx="15" ry="8.5" fill="url(#g82)" transform="rotate(-40 215.5 115)"/>
<path d="M222.3 109.3h0.9v0.9h-0.9zM214.4 119.1h0.9v0.9h-0.9zM217.7 115.6h0.9v0.9h-0.9zM214.1 113.7h0.9v0.9h-0.9zM214.3 119.3h0.9v0.9h-0.9zM220.0 111.1h0.9v0.9h-0.9zM214.3 116.9h0.9v0.9h-0.9zM221.1 115.5h0.9v0.9h-0.9zM216.9 112.7h0.9v0.9h-0.9zM214.1 120.3h0.9v0.9h-0.9zM203.6 122.4h0.9v0.9h-0.9zM217.9 111.6h0.9v0.9h-0.9zM214.4 114.8h0.9v0.9h-0.9zM220.1 120.5h0.9v0.9h-0.9zM205.5 118.0h0.9v0.9h-0.9zM222.6 115.7h0.9v0.9h-0.9zM213.6 114.1h0.9v0.9h-0.9zM217.1 116.3h0.9v0.9h-0.9zM220.5 116.5h0.9v0.9h-0.9zM217.5 118.9h0.9v0.9h-0.9zM229.8 109.3h0.9v0.9h-0.9zM216.8 122.4h0.9v0.9h-0.9zM210.5 117.6h0.9v0.9h-0.9zM206.8 115.3h0.9v0.9h-0.9zM217.2 114.5h0.9v0.9h-0.9zM218.0 109.5h0.9v0.9h-0.9zM213.4 117.7h0.9v0.9h-0.9zM213.7 118.5h0.9v0.9h-0.9zM208.5 119.7h0.9v0.9h-0.9zM218.1 120.3h0.9v0.9h-0.9zM213.4 118.8h0.9v0.9h-0.9zM222.2 102.6h0.9v0.9h-0.9zM210.1 115.6h0.9v0.9h-0.9zM222.7 110.5h0.9v0.9h-0.9zM215.9 118.3h0.9v0.9h-0.9zM211.8 110.7h0.9v0.9h-0.9zM213.4 117.7h0.9v0.9h-0.9zM221.0 105.7h0.9v0.9h-0.9zM217.9 109.9h0.9v0.9h-0.9zM211.8 114.7h0.9v0.9h-0.9zM209.7 111.3h0.9v0.9h-0.9zM217.4 117.9h0.9v0.9h-0.9zM205.7 114.2h0.9v0.9h-0.9zM219.4 113.3h0.9v0.9h-0.9zM222.0 122.1h0.9v0.9h-0.9zM221.6 115.9h0.9v0.9h-0.9zM223.0 114.7h0.9v0.9h-0.9zM206.6 119.0h0.9v0.9h-0.9zM212.4 111.7h0.9v0.9h-0.9zM215.5 114.3h0.9v0.9h-0.9zM220.4 117.8h0.9v0.9h-0.9zM215.9 111.5h0.9v0.9h-0.9zM218.5 107.5h0.9v0.9h-0.9zM205.5 116.6h0.9v0.9h-0.9zM218.1 112.3h0.9v0.9h-0.9zM213.8 120.7h0.9v0.9h-0.9zM219.2 112.6h0.9v0.9h-0.9zM210.8 120.6h0.9v0.9h-0.9zM204.6 123.7h0.9v0.9h-0.9zM215.8 110.2h0.9v0.9h-0.9zM210.6 117.3h0.9v0.9h-0.9zM219.1 108.4h0.9v0.9h-0.9zM215.7 108.5h0.9v0.9h-0.9zM209.4 113.3h0.9v0.9h-0.9zM212.2 121.0h0.9v0.9h-0.9zM208.4 118.0h0.9v0.9h-0.9zM221.2 114.6h0.9v0.9h-0.9zM209.1 122.2h0.9v0.9h-0.9zM215.7 110.0h0.9v0.9h-0.9zM208.2 111.6h0.9v0.9h-0.9zM215.1 117.4h0.9v0.9h-0.9zM215.9 117.3h0.9v0.9h-0.9zM214.8 114.2h0.9v0.9h-0.9zM218.6 116.8h0.9v0.9h-0.9zM226.4 112.1h0.9v0.9h-0.9zM211.7 122.6h0.9v0.9h-0.9zM218.2 108.8h0.9v0.9h-0.9zM213.6 117.2h0.9v0.9h-0.9zM207.5 119.1h0.9v0.9h-0.9zM220.7 111.9h0.9v0.9h-0.9zM206.8 121.9h0.9v0.9h-0.9zM211.5 119.7h0.9v0.9h-0.9zM218.5 120.8h0.9v0.9h-0.9zM225.3 109.3h0.9v0.9h-0.9zM219.3 114.8h0.9v0.9h-0.9zM215.0 120.0h0.9v0.9h-0.9zM219.1 114.5h0.9v0.9h-0.9zM221.4 119.1h0.9v0.9h-0.9zM217.5 116.1h0.9v0.9h-0.9zM228.5 110.3h0.9v0.9h-0.9zM214.8 111.3h0.9v0.9h-0.9zM217.3 120.5h0.9v0.9h-0.9zM213.8 116.7h0.9v0.9h-0.9zM206.6 113.2h0.9v0.9h-0.9zM220.4 110.5h0.9v0.9h-0.9zM207.8 121.0h0.9v0.9h-0.9zM215.2 114.2h0.9v0.9h-0.9zM216.1 121.9h0.9v0.9h-0.9zM213.7 115.4h0.9v0.9h-0.9zM208.9 113.2h0.9v0.9h-0.9zM217.3 114.9h0.9v0.9h-0.9zM219.6 111.7h0.9v0.9h-0.9zM224.8 109.6h0.9v0.9h-0.9zM223.8 116.3h0.9v0.9h-0.9zM205.0 117.8h0.9v0.9h-0.9zM217.3 115.3h0.9v0.9h-0.9zM215.5 114.5h0.9v0.9h-0.9zM213.1 114.2h0.9v0.9h-0.9zM213.9 117.9h0.9v0.9h-0.9zM212.1 120.1h0.9v0.9h-0.9zM215.6 114.9h0.9v0.9h-0.9zM208.9 118.2h0.9v0.9h-0.9zM214.3 107.9h0.9v0.9h-0.9zM210.6 109.9h0.9v0.9h-0.9zM215.4 119.4h0.9v0.9h-0.9zM224.2 110.3h0.9v0.9h-0.9zM215.6 111.8h0.9v0.9h-0.9zM225.7 103.6h0.9v0.9h-0.9zM224.4 116.3h0.9v0.9h-0.9zM219.0 113.2h0.9v0.9h-0.9zM209.7 107.3h0.9v0.9h-0.9zM211.6 103.9h0.9v0.9h-0.9zM215.2 107.9h0.9v0.9h-0.9zM216.7 118.4h0.9v0.9h-0.9zM207.9 115.2h0.9v0.9h-0.9zM213.4 118.5h0.9v0.9h-0.9zM214.0 124.0h0.9v0.9h-0.9zM213.1 112.1h0.9v0.9h-0.9zM216.2 114.1h0.9v0.9h-0.9zM213.2 113.4h0.9v0.9h-0.9zM211.2 112.5h0.9v0.9h-0.9zM221.4 112.1h0.9v0.9h-0.9zM227.2 110.4h0.9v0.9h-0.9zM215.4 119.9h0.9v0.9h-0.9zM214.2 120.5h0.9v0.9h-0.9zM211.2 120.6h0.9v0.9h-0.9zM209.6 111.0h0.9v0.9h-0.9zM206.3 121.9h0.9v0.9h-0.9zM216.3 120.0h0.9v0.9h-0.9zM222.5 109.7h0.9v0.9h-0.9zM226.0 101.6h0.9v0.9h-0.9zM215.7 118.2h0.9v0.9h-0.9zM221.4 110.2h0.9v0.9h-0.9zM218.0 120.8h0.9v0.9h-0.9zM215.9 115.9h0.9v0.9h-0.9z" fill="#6c7290" fill-opacity="0.22"/>
<path d="M217.7 109.3h0.9v0.9h-0.9zM217.3 112.4h0.9v0.9h-0.9zM218.6 102.9h0.9v0.9h-0.9zM224.2 113.6h0.9v0.9h-0.9zM210.9 115.8h0.9v0.9h-0.9zM217.4 112.3h0.9v0.9h-0.9zM209.2 123.2h0.9v0.9h-0.9zM214.6 111.1h0.9v0.9h-0.9zM233.2 99.5h0.9v0.9h-0.9zM215.5 110.1h0.9v0.9h-0.9zM209.4 115.3h0.9v0.9h-0.9zM216.9 114.3h0.9v0.9h-0.9zM212.2 121.5h0.9v0.9h-0.9zM214.8 117.5h0.9v0.9h-0.9zM210.0 115.4h0.9v0.9h-0.9zM220.8 117.3h0.9v0.9h-0.9zM222.4 121.6h0.9v0.9h-0.9zM217.7 112.8h0.9v0.9h-0.9zM219.3 118.5h0.9v0.9h-0.9zM216.4 117.3h0.9v0.9h-0.9zM204.9 121.4h0.9v0.9h-0.9zM218.2 117.1h0.9v0.9h-0.9zM217.4 113.3h0.9v0.9h-0.9zM215.0 114.2h0.9v0.9h-0.9zM208.7 114.2h0.9v0.9h-0.9zM216.3 114.8h0.9v0.9h-0.9zM215.8 122.8h0.9v0.9h-0.9zM216.9 117.9h0.9v0.9h-0.9zM217.9 104.4h0.9v0.9h-0.9zM221.5 105.8h0.9v0.9h-0.9zM224.3 109.6h0.9v0.9h-0.9zM223.7 107.1h0.9v0.9h-0.9zM220.3 105.9h0.9v0.9h-0.9zM218.3 113.3h0.9v0.9h-0.9zM211.2 118.5h0.9v0.9h-0.9zM218.0 107.6h0.9v0.9h-0.9zM208.9 111.7h0.9v0.9h-0.9zM222.5 112.1h0.9v0.9h-0.9zM210.3 115.0h0.9v0.9h-0.9zM219.6 115.4h0.9v0.9h-0.9zM222.1 117.0h0.9v0.9h-0.9zM221.0 111.6h0.9v0.9h-0.9zM209.9 121.6h0.9v0.9h-0.9zM217.2 112.2h0.9v0.9h-0.9zM205.0 123.1h0.9v0.9h-0.9zM220.2 108.9h0.9v0.9h-0.9zM209.8 123.5h0.9v0.9h-0.9zM221.4 109.6h0.9v0.9h-0.9zM206.0 122.7h0.9v0.9h-0.9zM214.0 118.5h0.9v0.9h-0.9zM213.9 115.7h0.9v0.9h-0.9zM209.5 117.2h0.9v0.9h-0.9zM213.2 109.8h0.9v0.9h-0.9zM217.0 110.7h0.9v0.9h-0.9zM215.2 112.8h0.9v0.9h-0.9zM230.5 105.5h0.9v0.9h-0.9zM212.7 121.4h0.9v0.9h-0.9zM220.1 112.4h0.9v0.9h-0.9zM208.7 112.9h0.9v0.9h-0.9zM207.2 117.2h0.9v0.9h-0.9zM212.3 114.5h0.9v0.9h-0.9zM215.1 119.1h0.9v0.9h-0.9zM219.4 116.0h0.9v0.9h-0.9zM216.4 110.5h0.9v0.9h-0.9zM217.4 110.5h0.9v0.9h-0.9zM209.2 110.0h0.9v0.9h-0.9zM203.8 121.3h0.9v0.9h-0.9zM218.2 105.6h0.9v0.9h-0.9zM225.8 104.4h0.9v0.9h-0.9zM221.9 117.6h0.9v0.9h-0.9zM206.6 114.8h0.9v0.9h-0.9zM208.2 108.0h0.9v0.9h-0.9zM218.3 110.6h0.9v0.9h-0.9zM221.6 114.2h0.9v0.9h-0.9zM218.8 115.9h0.9v0.9h-0.9zM217.6 122.4h0.9v0.9h-0.9zM225.7 111.9h0.9v0.9h-0.9zM208.9 113.4h0.9v0.9h-0.9zM217.3 123.7h0.9v0.9h-0.9zM217.8 114.2h0.9v0.9h-0.9zM213.8 111.5h0.9v0.9h-0.9zM218.9 120.8h0.9v0.9h-0.9zM217.0 118.1h0.9v0.9h-0.9zM228.3 105.8h0.9v0.9h-0.9zM227.4 110.2h0.9v0.9h-0.9zM219.9 118.9h0.9v0.9h-0.9zM217.7 109.6h0.9v0.9h-0.9zM224.6 106.6h0.9v0.9h-0.9zM208.9 116.7h0.9v0.9h-0.9zM211.9 106.6h0.9v0.9h-0.9zM219.9 105.1h0.9v0.9h-0.9zM214.9 116.2h0.9v0.9h-0.9zM221.2 109.0h0.9v0.9h-0.9zM207.0 120.4h0.9v0.9h-0.9zM221.9 116.0h0.9v0.9h-0.9zM209.3 113.2h0.9v0.9h-0.9zM209.5 119.4h0.9v0.9h-0.9zM213.1 111.9h0.9v0.9h-0.9zM216.3 119.6h0.9v0.9h-0.9zM218.1 114.7h0.9v0.9h-0.9zM217.2 121.4h0.9v0.9h-0.9zM216.2 115.9h0.9v0.9h-0.9zM219.7 121.1h0.9v0.9h-0.9zM225.8 103.8h0.9v0.9h-0.9zM207.2 119.6h0.9v0.9h-0.9zM210.7 116.8h0.9v0.9h-0.9zM220.8 105.5h0.9v0.9h-0.9zM212.9 117.8h0.9v0.9h-0.9zM214.0 107.4h0.9v0.9h-0.9zM215.8 112.8h0.9v0.9h-0.9zM218.1 115.2h0.9v0.9h-0.9zM208.6 122.4h0.9v0.9h-0.9zM225.3 106.0h0.9v0.9h-0.9zM221.6 122.3h0.9v0.9h-0.9zM212.4 120.4h0.9v0.9h-0.9zM224.8 107.6h0.9v0.9h-0.9zM215.5 120.2h0.9v0.9h-0.9zM217.5 105.0h0.9v0.9h-0.9zM212.2 123.1h0.9v0.9h-0.9zM207.0 118.5h0.9v0.9h-0.9zM219.0 115.4h0.9v0.9h-0.9zM218.4 118.5h0.9v0.9h-0.9zM215.5 119.0h0.9v0.9h-0.9zM223.9 109.8h0.9v0.9h-0.9zM214.8 117.4h0.9v0.9h-0.9zM220.8 116.3h0.9v0.9h-0.9zM216.7 116.8h0.9v0.9h-0.9zM215.1 113.7h0.9v0.9h-0.9zM217.5 111.6h0.9v0.9h-0.9zM219.4 113.7h0.9v0.9h-0.9zM213.5 114.1h0.9v0.9h-0.9zM211.0 112.9h0.9v0.9h-0.9zM226.0 118.8h0.9v0.9h-0.9zM212.6 116.6h0.9v0.9h-0.9zM215.9 112.0h0.9v0.9h-0.9zM211.2 113.6h0.9v0.9h-0.9zM215.6 116.5h0.9v0.9h-0.9zM218.0 115.5h0.9v0.9h-0.9zM217.2 115.8h0.9v0.9h-0.9zM219.3 115.0h0.9v0.9h-0.9zM217.3 112.9h0.9v0.9h-0.9zM218.2 111.7h0.9v0.9h-0.9zM215.2 113.8h0.9v0.9h-0.9zM213.6 118.3h0.9v0.9h-0.9z" fill="#6c7290" fill-opacity="0.22"/>
<path d="M211.4 111.5h0.9v0.9h-0.9zM219.1 112.2h0.9v0.9h-0.9zM207.9 122.8h0.9v0.9h-0.9zM226.5 112.2h0.9v0.9h-0.9zM212.3 116.1h0.9v0.9h-0.9zM220.6 100.7h0.9v0.9h-0.9zM216.8 120.6h0.9v0.9h-0.9zM214.2 114.1h0.9v0.9h-0.9zM222.3 110.0h0.9v0.9h-0.9zM217.9 113.4h0.9v0.9h-0.9zM218.3 115.4h0.9v0.9h-0.9zM202.7 114.9h0.9v0.9h-0.9zM215.7 123.0h0.9v0.9h-0.9zM213.0 116.0h0.9v0.9h-0.9zM222.5 113.1h0.9v0.9h-0.9zM212.0 120.8h0.9v0.9h-0.9zM220.3 109.3h0.9v0.9h-0.9zM208.1 119.4h0.9v0.9h-0.9zM209.8 118.2h0.9v0.9h-0.9zM202.9 121.8h0.9v0.9h-0.9zM207.2 116.7h0.9v0.9h-0.9zM221.4 113.4h0.9v0.9h-0.9zM211.6 115.9h0.9v0.9h-0.9zM215.7 121.6h0.9v0.9h-0.9zM217.7 110.5h0.9v0.9h-0.9zM221.3 110.9h0.9v0.9h-0.9zM214.0 113.9h0.9v0.9h-0.9zM226.1 110.0h0.9v0.9h-0.9zM215.6 108.9h0.9v0.9h-0.9zM223.5 115.5h0.9v0.9h-0.9zM215.4 113.1h0.9v0.9h-0.9zM220.8 105.6h0.9v0.9h-0.9zM219.0 110.9h0.9v0.9h-0.9zM225.9 108.7h0.9v0.9h-0.9zM202.4 122.6h0.9v0.9h-0.9zM226.0 107.1h0.9v0.9h-0.9zM211.2 122.9h0.9v0.9h-0.9zM218.4 114.3h0.9v0.9h-0.9zM213.4 119.3h0.9v0.9h-0.9zM213.5 111.8h0.9v0.9h-0.9zM226.3 112.3h0.9v0.9h-0.9zM217.5 124.0h0.9v0.9h-0.9zM222.4 110.5h0.9v0.9h-0.9zM215.3 115.6h0.9v0.9h-0.9zM215.5 119.8h0.9v0.9h-0.9zM222.5 107.8h0.9v0.9h-0.9zM211.6 114.2h0.9v0.9h-0.9zM226.2 113.2h0.9v0.9h-0.9zM223.0 107.0h0.9v0.9h-0.9zM227.6 106.6h0.9v0.9h-0.9zM212.4 114.2h0.9v0.9h-0.9zM224.1 110.3h0.9v0.9h-0.9zM214.9 118.5h0.9v0.9h-0.9zM220.1 117.4h0.9v0.9h-0.9zM214.7 117.3h0.9v0.9h-0.9zM217.5 118.1h0.9v0.9h-0.9zM219.1 115.9h0.9v0.9h-0.9zM219.2 123.2h0.9v0.9h-0.9zM214.1 118.6h0.9v0.9h-0.9zM215.6 111.8h0.9v0.9h-0.9zM215.7 114.1h0.9v0.9h-0.9zM222.3 114.5h0.9v0.9h-0.9zM205.9 110.9h0.9v0.9h-0.9zM224.7 108.1h0.9v0.9h-0.9zM220.3 121.7h0.9v0.9h-0.9zM219.1 116.8h0.9v0.9h-0.9zM211.6 112.2h0.9v0.9h-0.9zM220.7 118.4h0.9v0.9h-0.9zM215.0 107.2h0.9v0.9h-0.9zM213.1 110.6h0.9v0.9h-0.9zM214.9 118.9h0.9v0.9h-0.9zM217.3 110.5h0.9v0.9h-0.9zM224.0 111.4h0.9v0.9h-0.9zM205.3 117.8h0.9v0.9h-0.9zM211.7 114.4h0.9v0.9h-0.9zM218.4 122.5h0.9v0.9h-0.9zM222.5 112.9h0.9v0.9h-0.9zM210.3 115.8h0.9v0.9h-0.9zM226.3 109.8h0.9v0.9h-0.9zM212.3 117.4h0.9v0.9h-0.9zM213.4 119.1h0.9v0.9h-0.9zM209.1 118.2h0.9v0.9h-0.9zM206.8 117.2h0.9v0.9h-0.9zM213.9 109.1h0.9v0.9h-0.9zM214.0 109.9h0.9v0.9h-0.9zM220.6 112.7h0.9v0.9h-0.9zM217.8 115.7h0.9v0.9h-0.9zM204.5 122.3h0.9v0.9h-0.9zM216.7 118.3h0.9v0.9h-0.9zM221.9 111.7h0.9v0.9h-0.9zM216.1 115.7h0.9v0.9h-0.9zM220.6 105.9h0.9v0.9h-0.9zM220.3 114.8h0.9v0.9h-0.9zM216.7 118.2h0.9v0.9h-0.9zM218.3 116.3h0.9v0.9h-0.9zM213.4 117.2h0.9v0.9h-0.9zM211.1 111.3h0.9v0.9h-0.9zM223.8 119.2h0.9v0.9h-0.9zM218.1 105.8h0.9v0.9h-0.9zM226.2 108.9h0.9v0.9h-0.9zM223.3 108.8h0.9v0.9h-0.9zM215.6 113.3h0.9v0.9h-0.9zM219.2 118.3h0.9v0.9h-0.9zM227.2 109.7h0.9v0.9h-0.9zM206.6 115.4h0.9v0.9h-0.9zM214.9 116.1h0.9v0.9h-0.9zM212.5 117.6h0.9v0.9h-0.9zM223.0 110.9h0.9v0.9h-0.9zM217.1 113.0h0.9v0.9h-0.9zM202.4 114.2h0.9v0.9h-0.9zM212.6 111.1h0.9v0.9h-0.9zM207.5 111.3h0.9v0.9h-0.9zM215.2 114.5h0.9v0.9h-0.9zM206.7 122.5h0.9v0.9h-0.9zM220.9 115.6h0.9v0.9h-0.9zM225.5 97.8h0.9v0.9h-0.9zM219.8 113.8h0.9v0.9h-0.9zM217.5 109.0h0.9v0.9h-0.9zM210.5 122.2h0.9v0.9h-0.9zM201.8 119.8h0.9v0.9h-0.9zM220.1 113.5h0.9v0.9h-0.9zM211.9 110.8h0.9v0.9h-0.9zM224.6 112.2h0.9v0.9h-0.9zM208.1 115.6h0.9v0.9h-0.9zM216.4 115.3h0.9v0.9h-0.9zM224.5 109.6h0.9v0.9h-0.9zM213.5 121.0h0.9v0.9h-0.9zM220.5 111.2h0.9v0.9h-0.9zM222.1 105.6h0.9v0.9h-0.9zM218.4 112.5h0.9v0.9h-0.9zM217.2 116.3h0.9v0.9h-0.9zM215.9 117.0h0.9v0.9h-0.9zM222.3 118.2h0.9v0.9h-0.9zM215.6 123.6h0.9v0.9h-0.9zM217.0 117.8h0.9v0.9h-0.9zM216.8 113.8h0.9v0.9h-0.9zM212.7 117.8h0.9v0.9h-0.9zM211.8 117.7h0.9v0.9h-0.9zM211.2 121.6h0.9v0.9h-0.9zM215.2 109.7h0.9v0.9h-0.9zM222.4 110.1h0.9v0.9h-0.9zM219.6 115.2h0.9v0.9h-0.9zM210.5 119.2h0.9v0.9h-0.9zM222.3 111.5h0.9v0.9h-0.9z" fill="#6c7290" fill-opacity="0.22"/>
<path d="M193.4 83.2h0.9v0.9h-0.9zM198.2 109.0h0.9v0.9h-0.9zM206.8 88.4h0.9v0.9h-0.9zM198.7 111.0h0.9v0.9h-0.9zM194.4 97.5h0.9v0.9h-0.9zM212.1 97.3h0.9v0.9h-0.9zM199.5 88.0h0.9v0.9h-0.9zM192.6 109.9h0.9v0.9h-0.9zM205.7 95.0h0.9v0.9h-0.9zM200.4 101.8h0.9v0.9h-0.9zM189.7 92.8h0.9v0.9h-0.9zM191.8 88.3h0.9v0.9h-0.9zM203.2 90.6h0.9v0.9h-0.9zM196.3 104.6h0.9v0.9h-0.9zM203.8 77.3h0.9v0.9h-0.9zM193.1 81.6h0.9v0.9h-0.9zM208.9 106.8h0.9v0.9h-0.9zM198.0 106.4h0.9v0.9h-0.9zM192.7 85.5h0.9v0.9h-0.9zM193.4 78.0h0.9v0.9h-0.9zM198.2 107.7h0.9v0.9h-0.9zM197.0 83.7h0.9v0.9h-0.9zM198.5 104.2h0.9v0.9h-0.9zM204.5 102.4h0.9v0.9h-0.9zM194.1 97.9h0.9v0.9h-0.9zM198.7 72.3h0.9v0.9h-0.9zM196.1 103.8h0.9v0.9h-0.9zM194.1 90.8h0.9v0.9h-0.9z" fill="#a4a8bc" fill-opacity="0.3"/>
<path d="M204.2 97.1h0.9v0.9h-0.9zM190.6 84.3h0.9v0.9h-0.9zM201.1 86.0h0.9v0.9h-0.9zM199.5 92.1h0.9v0.9h-0.9zM201.1 113.6h0.9v0.9h-0.9zM198.2 108.6h0.9v0.9h-0.9zM204.1 95.0h0.9v0.9h-0.9zM203.2 96.7h0.9v0.9h-0.9zM197.2 108.2h0.9v0.9h-0.9zM208.6 115.9h0.9v0.9h-0.9zM199.1 92.3h0.9v0.9h-0.9zM191.2 74.8h0.9v0.9h-0.9zM210.1 103.5h0.9v0.9h-0.9zM209.4 90.0h0.9v0.9h-0.9zM193.4 83.2h0.9v0.9h-0.9zM201.5 70.6h0.9v0.9h-0.9zM194.1 91.8h0.9v0.9h-0.9zM188.6 92.3h0.9v0.9h-0.9zM192.4 76.0h0.9v0.9h-0.9zM195.2 88.9h0.9v0.9h-0.9zM201.4 92.9h0.9v0.9h-0.9zM192.2 77.5h0.9v0.9h-0.9zM200.7 96.4h0.9v0.9h-0.9zM204.9 89.4h0.9v0.9h-0.9zM196.4 95.3h0.9v0.9h-0.9zM192.2 81.7h0.9v0.9h-0.9zM201.0 80.3h0.9v0.9h-0.9z" fill="#a4a8bc" fill-opacity="0.3"/>
<path d="M197.1 80.1h0.9v0.9h-0.9zM204.1 112.1h0.9v0.9h-0.9zM200.6 90.6h0.9v0.9h-0.9zM197.8 98.2h0.9v0.9h-0.9zM190.1 105.5h0.9v0.9h-0.9zM194.5 89.2h0.9v0.9h-0.9zM194.8 106.0h0.9v0.9h-0.9zM203.4 114.2h0.9v0.9h-0.9zM188.7 87.8h0.9v0.9h-0.9zM199.4 100.3h0.9v0.9h-0.9zM197.9 102.2h0.9v0.9h-0.9zM202.1 92.5h0.9v0.9h-0.9zM198.4 96.4h0.9v0.9h-0.9zM191.0 102.1h0.9v0.9h-0.9zM200.8 101.0h0.9v0.9h-0.9zM201.3 93.2h0.9v0.9h-0.9zM195.9 86.4h0.9v0.9h-0.9zM206.3 103.8h0.9v0.9h-0.9zM204.3 95.8h0.9v0.9h-0.9zM207.7 89.6h0.9v0.9h-0.9zM201.0 89.9h0.9v0.9h-0.9zM200.5 101.1h0.9v0.9h-0.9zM192.3 102.0h0.9v0.9h-0.9zM191.7 109.8h0.9v0.9h-0.9zM195.9 88.6h0.9v0.9h-0.9zM200.9 114.3h0.9v0.9h-0.9zM204.7 75.2h0.9v0.9h-0.9z" fill="#a4a8bc" fill-opacity="0.3"/>
<path d="M234.8 93.4h0.9v0.9h-0.9zM229.7 108.4h0.9v0.9h-0.9zM224.5 91.8h0.9v0.9h-0.9zM216.3 104.5h0.9v0.9h-0.9zM226.4 93.7h0.9v0.9h-0.9zM221.1 113.2h0.9v0.9h-0.9zM234.1 85.4h0.9v0.9h-0.9zM221.0 83.5h0.9v0.9h-0.9zM228.2 109.6h0.9v0.9h-0.9zM215.8 78.7h0.9v0.9h-0.9zM217.6 85.4h0.9v0.9h-0.9zM238.3 95.7h0.9v0.9h-0.9zM206.3 74.9h0.9v0.9h-0.9zM226.4 99.2h0.9v0.9h-0.9zM216.1 109.6h0.9v0.9h-0.9zM216.8 91.4h0.9v0.9h-0.9zM231.2 101.7h0.9v0.9h-0.9zM223.3 86.4h0.9v0.9h-0.9zM219.0 84.6h0.9v0.9h-0.9zM215.0 101.4h0.9v0.9h-0.9zM208.8 96.7h0.9v0.9h-0.9zM230.2 101.7h0.9v0.9h-0.9zM223.9 79.2h0.9v0.9h-0.9z" fill="#a4a8bc" fill-opacity="0.3"/>
<path d="M221.3 82.5h0.9v0.9h-0.9zM229.7 92.2h0.9v0.9h-0.9zM240.1 110.4h0.9v0.9h-0.9zM218.1 103.3h0.9v0.9h-0.9zM224.8 96.5h0.9v0.9h-0.9zM221.3 81.1h0.9v0.9h-0.9zM228.0 94.2h0.9v0.9h-0.9zM227.8 71.3h0.9v0.9h-0.9zM228.4 72.0h0.9v0.9h-0.9zM226.7 98.0h0.9v0.9h-0.9zM221.9 104.6h0.9v0.9h-0.9zM224.0 101.8h0.9v0.9h-0.9zM224.9 101.9h0.9v0.9h-0.9zM225.0 69.7h0.9v0.9h-0.9zM235.4 97.6h0.9v0.9h-0.9zM241.1 81.8h0.9v0.9h-0.9zM213.1 90.5h0.9v0.9h-0.9zM231.5 97.1h0.9v0.9h-0.9zM217.8 104.4h0.9v0.9h-0.9zM243.4 79.7h0.9v0.9h-0.9zM222.0 95.3h0.9v0.9h-0.9zM216.3 85.1h0.9v0.9h-0.9zM231.1 98.2h0.9v0.9h-0.9z" fill="#a4a8bc" fill-opacity="0.3"/>
<path d="M223.4 92.5h0.9v0.9h-0.9zM221.0 110.8h0.9v0.9h-0.9zM228.1 90.7h0.9v0.9h-0.9zM214.8 93.2h0.9v0.9h-0.9zM211.5 79.0h0.9v0.9h-0.9zM216.0 92.4h0.9v0.9h-0.9zM219.0 80.9h0.9v0.9h-0.9zM233.5 100.9h0.9v0.9h-0.9zM223.0 97.3h0.9v0.9h-0.9zM218.3 89.2h0.9v0.9h-0.9zM206.8 88.0h0.9v0.9h-0.9zM212.7 77.8h0.9v0.9h-0.9zM218.4 84.0h0.9v0.9h-0.9zM224.9 82.1h0.9v0.9h-0.9zM225.2 94.0h0.9v0.9h-0.9zM216.1 93.9h0.9v0.9h-0.9zM219.9 77.6h0.9v0.9h-0.9zM214.9 92.9h0.9v0.9h-0.9zM218.5 72.0h0.9v0.9h-0.9zM219.0 88.2h0.9v0.9h-0.9zM244.3 88.9h0.9v0.9h-0.9zM237.6 100.3h0.9v0.9h-0.9zM243.9 109.2h0.9v0.9h-0.9z" fill="#a4a8bc" fill-opacity="0.3"/>
</g>
<rect x="187.5" y="65.5" width="60" height="60" fill="none" stroke="#3a3a3a" stroke-width="1"/>
<line x1="186.9" y1="65.5" x2="186.9" y2="125.5" stroke="#555" stroke-width="0.8"/>
<line x1="207.5" y1="65.5" x2="207.5" y2="125.5" stroke="#3a3a3a" stroke-width="1"/>
<line x1="187.5" y1="106.5" x2="247.5" y2="106.5" stroke="#3a3a3a" stroke-width="1"/>
<text x="185.3" y="67.8" font-size="6.6" text-anchor="end">10<tspan font-size="4.6" dy="-2.6">4</tspan></text>
<text x="185.3" y="88.4" font-size="6.6" text-anchor="end">10<tspan font-size="4.6" dy="-2.6">3</tspan></text>
<text x="185.3" y="108.6" font-size="6.6" text-anchor="end">10<tspan font-size="4.6" dy="-2.6">2</tspan></text>
<text x="183.3" y="123" font-size="6.6" text-anchor="end">0</text>
<text x="192.6" y="136.2" font-size="6.6" text-anchor="middle">0</text>
<text x="206.7" y="136.2" font-size="6.6" text-anchor="middle">10<tspan font-size="4.6" dy="-2.6">2</tspan></text>
<text x="227.3" y="136.2" font-size="6.6" text-anchor="middle">10<tspan font-size="4.6" dy="-2.6">3</tspan></text>
<text x="247.3" y="136.2" font-size="6.6" text-anchor="middle">10<tspan font-size="4.6" dy="-2.6">4</tspan></text>
<text x="216.6" y="144.4" font-size="7.2" text-anchor="middle">GFP</text>
<line x1="194.5" y1="126.7" x2="247.5" y2="126.7" stroke="#9a9a9a" stroke-width="0.8" stroke-dasharray="0.8 2.4"/>
<line x1="186.9" y1="118.6" x2="186.9" y2="122.7" stroke="#222" stroke-width="1.6"/>
<line x1="189.8" y1="126.2" x2="193.9" y2="126.2" stroke="#222" stroke-width="1.4"/>
<text x="0" y="0" font-size="6.8" text-anchor="middle" transform="translate(6.4,95.2) rotate(-90)">tdTomato</text>
<line x1="280.5" y1="45.3" x2="280.5" y2="125.5" stroke="#222" stroke-width="1"/>
<line x1="280.5" y1="125.5" x2="401.5" y2="125.5" stroke="#222" stroke-width="1"/>
<line x1="278" y1="125.5" x2="280.5" y2="125.5" stroke="#222" stroke-width="1"/>
<text x="276.7" y="127.9" font-size="6.8" text-anchor="end">0</text>
<line x1="278" y1="98.8" x2="280.5" y2="98.8" stroke="#222" stroke-width="1"/>
<text x="276.7" y="101.2" font-size="6.8" text-anchor="end">10</text>
<line x1="278" y1="72.2" x2="280.5" y2="72.2" stroke="#222" stroke-width="1"/>
<text x="276.7" y="74.6" font-size="6.8" text-anchor="end">20</text>
<line x1="278" y1="45.5" x2="280.5" y2="45.5" stroke="#222" stroke-width="1"/>
<text x="276.7" y="47.9" font-size="6.8" text-anchor="end">30</text>
<line x1="280.5" y1="125.5" x2="280.5" y2="127.7" stroke="#222" stroke-width="1"/>
<text x="280.5" y="135.6" font-size="6.8" text-anchor="middle">0</text>
<line x1="341" y1="125.5" x2="341" y2="127.7" stroke="#222" stroke-width="1"/>
<text x="341" y="135.6" font-size="6.8" text-anchor="middle">5</text>
<line x1="401.5" y1="125.5" x2="401.5" y2="127.7" stroke="#222" stroke-width="1"/>
<text x="401.5" y="135.6" font-size="6.8" text-anchor="middle">10</text>
<text x="342.1" y="144.1" font-size="6.8" text-anchor="middle">Days</text>
<text x="0" y="0" font-size="6.8" text-anchor="middle" transform="translate(265.0,80.8) rotate(-90)">GFP:tdTomato</text>
<polyline points="280.5,122.8 316.8,116.4 341,109 365.2,96.4 401.5,68.4" fill="none" stroke="#a8a8a8" stroke-width="2"/>
<line x1="341" y1="113.8" x2="341" y2="104.4" stroke="#a8a8a8" stroke-width="1.1"/>
<line x1="339" y1="113.8" x2="343" y2="113.8" stroke="#a8a8a8" stroke-width="1.1"/>
<line x1="339" y1="104.4" x2="343" y2="104.4" stroke="#a8a8a8" stroke-width="1.1"/>
<line x1="365.2" y1="101.5" x2="365.2" y2="90.8" stroke="#a8a8a8" stroke-width="1.1"/>
<line x1="363.2" y1="101.5" x2="367.2" y2="101.5" stroke="#a8a8a8" stroke-width="1.1"/>
<line x1="363.2" y1="90.8" x2="367.2" y2="90.8" stroke="#a8a8a8" stroke-width="1.1"/>
<line x1="401.5" y1="82" x2="401.5" y2="54.3" stroke="#a8a8a8" stroke-width="1.1"/>
<line x1="399.5" y1="82" x2="403.5" y2="82" stroke="#a8a8a8" stroke-width="1.1"/>
<line x1="399.5" y1="54.3" x2="403.5" y2="54.3" stroke="#a8a8a8" stroke-width="1.1"/>
<circle cx="280.5" cy="122.8" r="1.3" fill="#a0a0a0"/>
<circle cx="316.8" cy="116.4" r="1.3" fill="#a0a0a0"/>
<circle cx="341" cy="109" r="1.3" fill="#a0a0a0"/>
<circle cx="365.2" cy="96.4" r="1.3" fill="#a0a0a0"/>
<circle cx="401.5" cy="68.4" r="1.3" fill="#a0a0a0"/>
<polyline points="280.5,122.7 316.8,122.7 341,121.5 365.2,122.6 401.5,122.6" fill="none" stroke="#111" stroke-width="2.3"/>
<circle cx="280.5" cy="122.7" r="1.4" fill="#111"/>
<circle cx="316.8" cy="122.7" r="1.4" fill="#111"/>
<circle cx="341" cy="121.5" r="1.4" fill="#111"/>
<circle cx="365.2" cy="122.6" r="1.4" fill="#111"/>
<circle cx="401.5" cy="122.6" r="1.4" fill="#111"/>
<path d="M399.7 120.6l3.6 4M403.3 120.6l-3.6 4" stroke="#111" stroke-width="1.4"/>
<text x="400.4" y="46" font-size="6.9" text-anchor="middle" font-weight="bold">**</text>
<line x1="294" y1="49.7" x2="304.7" y2="49.7" stroke="#111" stroke-width="2.3"/>
<circle cx="299.3" cy="49.7" r="1.5" fill="#111"/>
<text x="308.7" y="52.2" font-size="6.8">DMSO</text>
<line x1="294" y1="61.3" x2="304.7" y2="61.3" stroke="#a8a8a8" stroke-width="2.2"/>
<circle cx="299.3" cy="61.3" r="1.5" fill="#a0a0a0"/>
<text x="308.7" y="63.8" font-size="6.8">AZD2811</text>
<line x1="433.5" y1="22.2" x2="433.5" y2="125.5" stroke="#222" stroke-width="1"/>
<line x1="433.5" y1="125.5" x2="517" y2="125.5" stroke="#222" stroke-width="1"/>
<line x1="430.3" y1="125.5" x2="433.5" y2="125.5" stroke="#222" stroke-width="1"/>
<text x="428.1" y="127.9" font-size="6.8" text-anchor="end">0</text>
<line x1="430.3" y1="73.8" x2="433.5" y2="73.8" stroke="#222" stroke-width="1"/>
<text x="428.1" y="76.2" font-size="6.8" text-anchor="end">5</text>
<line x1="430.3" y1="22.2" x2="433.5" y2="22.2" stroke="#222" stroke-width="1"/>
<text x="428.1" y="24.6" font-size="6.8" text-anchor="end">10</text>
<rect x="437" y="113.7" width="10.8" height="11.8" fill="#1a1a1a" rx="1"/>
<line x1="442.4" y1="125.5" x2="442.4" y2="127.7" stroke="#222" stroke-width="1"/>
<text x="0" y="0" font-size="6.8" text-anchor="end" transform="translate(445.6,135.3) rotate(-43)">DMSO</text>
<line x1="455.3" y1="31.7" x2="455.3" y2="24.3" stroke="#bdbdbd" stroke-width="1.1"/>
<line x1="452.8" y1="24.3" x2="457.8" y2="24.3" stroke="#bdbdbd" stroke-width="1.1"/>
<rect x="449.9" y="31.7" width="10.8" height="93.8" fill="#bdbdbd" rx="1"/>
<line x1="455.3" y1="125.5" x2="455.3" y2="127.7" stroke="#222" stroke-width="1"/>
<text x="0" y="0" font-size="6.8" text-anchor="end" transform="translate(458.5,135.3) rotate(-43)">AZD2811</text>
<rect x="463.1" y="114.6" width="10.8" height="10.9" fill="#1a1a1a" rx="1"/>
<line x1="468.5" y1="125.5" x2="468.5" y2="127.7" stroke="#222" stroke-width="1"/>
<text x="0" y="0" font-size="6.8" text-anchor="end" transform="translate(471.7,135.3) rotate(-43)">DMSO</text>
<line x1="481.6" y1="95.4" x2="481.6" y2="89" stroke="#bdbdbd" stroke-width="1.1"/>
<line x1="479.1" y1="89" x2="484.1" y2="89" stroke="#bdbdbd" stroke-width="1.1"/>
<rect x="476.2" y="95.4" width="10.8" height="30.1" fill="#bdbdbd" rx="1"/>
<line x1="481.6" y1="125.5" x2="481.6" y2="127.7" stroke="#222" stroke-width="1"/>
<text x="0" y="0" font-size="6.8" text-anchor="end" transform="translate(484.8,135.3) rotate(-43)">Paclitaxel</text>
<rect x="489.3" y="112.3" width="10.8" height="13.2" fill="#1a1a1a" rx="1"/>
<line x1="494.7" y1="125.5" x2="494.7" y2="127.7" stroke="#222" stroke-width="1"/>
<text x="0" y="0" font-size="6.8" text-anchor="end" transform="translate(497.9,135.3) rotate(-43)">DMSO</text>
<line x1="508" y1="104" x2="508" y2="92.5" stroke="#bdbdbd" stroke-width="1.1"/>
<line x1="505.5" y1="92.5" x2="510.5" y2="92.5" stroke="#bdbdbd" stroke-width="1.1"/>
<rect x="502.6" y="104" width="10.8" height="21.5" fill="#bdbdbd" rx="1"/>
<line x1="508" y1="125.5" x2="508" y2="127.7" stroke="#222" stroke-width="1"/>
<text x="0" y="0" font-size="6.8" text-anchor="end" transform="translate(511.2,135.3) rotate(-43)">Vincristine</text>
<line x1="441.7" y1="13" x2="461.3" y2="13" stroke="#111" stroke-width="1.1"/>
<text x="451.7" y="8.9" font-size="6.9" text-anchor="middle" font-weight="bold">*</text>
<text x="0" y="0" font-size="6.8" text-anchor="middle" transform="translate(419.4,71.2) rotate(-90)">GFP:tdTomato</text>
<text x="42" y="235.3" font-size="8.9">Aurora B</text>
<text x="42" y="248.3" font-size="8.9">Aurora A</text>
<text x="157.9" y="235.4" font-size="8.7" text-anchor="end">YAP<tspan fill="#3aa3c8" stroke="#3aa3c8">R</tspan>G<tspan fill="#3aa3c8" stroke="#3aa3c8">E</tspan>LYKELQK</text>
<text x="157.9" y="248.4" font-size="8.7" text-anchor="end">YAP<tspan fill="#3aa3c8" stroke="#3aa3c8">L</tspan>G<tspan fill="#3aa3c8" stroke="#3aa3c8">T</tspan>LYKELQK</text>
<defs><filter id="bb" x="-30%" y="-150%" width="160%" height="400%"><feGaussianBlur stdDeviation="0.55"/></filter><filter id="bb2" x="-30%" y="-150%" width="160%" height="400%"><feGaussianBlur stdDeviation="0.8"/></filter></defs>
<text x="0" y="0" font-size="6.9" transform="translate(230.7,215.2) rotate(-90)">EV</text>
<text x="0" y="0" font-size="6.9" transform="translate(246.4,215.2) rotate(-90)">WT</text>
<text x="0" y="0" font-size="6.9" transform="translate(261.7,215.2) rotate(-90)">R159L; E161T</text>
<line x1="218.7" y1="218.5" x2="265.7" y2="218.5" stroke="#555" stroke-width="1.8"/>
<line x1="218.7" y1="276.8" x2="265.7" y2="276.8" stroke="#555" stroke-width="1.8"/>
<rect x="218.7" y="223.8" width="47" height="22.6" fill="#d6d6d6" stroke="#a8a8a8" stroke-width="0.9"/>
<rect x="218.7" y="248.3" width="47" height="12.2" fill="#d6d6d6" stroke="#a8a8a8" stroke-width="0.9"/>
<rect x="218.7" y="262.5" width="47" height="10.6" fill="#d6d6d6" stroke="#a8a8a8" stroke-width="0.9"/>
<rect x="236.7" y="227" width="13.2" height="3.6" rx="1.8" fill="#1e1e1e" fill-opacity="1" filter="url(#bb)"/>
<rect x="251.5" y="226.6" width="13.8" height="4.4" rx="2.2" fill="#1e1e1e" fill-opacity="1" filter="url(#bb)"/>
<rect x="220.3" y="239.6" width="13.7" height="3.2" rx="1.6" fill="#1e1e1e" fill-opacity="1" filter="url(#bb)"/>
<rect x="236.7" y="239.7" width="12.8" height="3" rx="1.5" fill="#1e1e1e" fill-opacity="1" filter="url(#bb)"/>
<rect x="252" y="239.8" width="12.2" height="3" rx="1.5" fill="#1e1e1e" fill-opacity="1" filter="url(#bb)"/>
<rect x="236.7" y="253.7" width="12.2" height="2.2" rx="1.1" fill="#555" fill-opacity="1" filter="url(#bb)"/>
<rect x="251.5" y="253.5" width="12.7" height="2.8" rx="1.4" fill="#333" fill-opacity="1" filter="url(#bb)"/>
<rect x="219.2" y="266" width="14.3" height="2.8" rx="1.4" fill="#1e1e1e" fill-opacity="1" filter="url(#bb)"/>
<rect x="236.2" y="266" width="13.2" height="2.8" rx="1.4" fill="#1e1e1e" fill-opacity="1" filter="url(#bb)"/>
<rect x="252" y="266" width="12.7" height="2.8" rx="1.4" fill="#1e1e1e" fill-opacity="1" filter="url(#bb)"/>
<text x="215" y="243" font-size="7" text-anchor="end">Aurora B</text>
<text x="215" y="256.6" font-size="7" text-anchor="end">HA</text>
<text x="215" y="269.8" font-size="7" text-anchor="end">Vinculin</text>
<text x="242.2" y="284.9" font-size="7" text-anchor="middle">NCI-H82</text>
<line x1="270.5" y1="228.7" x2="279.4" y2="228.7" stroke="#222" stroke-width="0.9"/>
<path d="M269.4 228.7l2.8 -1.3v2.6z" fill="#222"/>
<text x="282.8" y="231.2" font-size="7.2">Exogenous</text>
<line x1="270.5" y1="241.1" x2="279.4" y2="241.1" stroke="#222" stroke-width="0.9"/>
<path d="M269.4 241.1l2.8 -1.3v2.6z" fill="#222"/>
<text x="282.8" y="242.9" font-size="7.2">Endogenous</text>
<text x="372.9" y="220.8" font-size="7" text-anchor="end">AZD2811</text>
<text x="372.9" y="229.5" font-size="7" text-anchor="end">(nmol/L):</text>
<line x1="377.2" y1="216.1" x2="422.8" y2="216.1" stroke="#333" stroke-width="1.3"/>
<text x="402.5" y="213.4" font-size="7" text-anchor="middle">EV</text>
<line x1="427.7" y1="216.1" x2="470.4" y2="216.1" stroke="#333" stroke-width="1.3"/>
<text x="449.3" y="213.4" font-size="7" text-anchor="middle">WT</text>
<line x1="474.4" y1="216.1" x2="518.5" y2="216.1" stroke="#333" stroke-width="1.3"/>
<text x="497.4" y="213.4" font-size="7" text-anchor="middle">R159L; E161T</text>
<text x="384.6" y="230" font-size="7" text-anchor="middle">0</text>
<text x="403" y="230" font-size="7" text-anchor="middle">16</text>
<text x="418.5" y="230" font-size="7" text-anchor="middle">32</text>
<text x="432.2" y="230" font-size="7" text-anchor="middle">0</text>
<text x="448" y="230" font-size="7" text-anchor="middle">16</text>
<text x="464.6" y="230" font-size="7" text-anchor="middle">32</text>
<text x="479.2" y="230" font-size="7" text-anchor="middle">0</text>
<text x="495.5" y="230" font-size="7" text-anchor="middle">16</text>
<text x="512.8" y="230" font-size="7" text-anchor="middle">32</text>
<rect x="377.3" y="238.2" width="141.5" height="12" fill="#d6d6d6" stroke="#a8a8a8" stroke-width="0.9"/>
<rect x="377.3" y="255.8" width="141.5" height="17.2" fill="#d6d6d6" stroke="#a8a8a8" stroke-width="0.9"/>
<rect x="377.9" y="241.8" width="14.1" height="3.6" rx="1.8" fill="#262626" fill-opacity="1" filter="url(#bb2)"/>
<rect x="395.9" y="242.3" width="12.3" height="2.6" rx="1.3" fill="#484848" fill-opacity="1" filter="url(#bb2)"/>
<rect x="428.1" y="241.8" width="11.5" height="3.6" rx="1.8" fill="#262626" fill-opacity="1" filter="url(#bb2)"/>
<rect x="443.5" y="242.3" width="10.9" height="2.6" rx="1.3" fill="#484848" fill-opacity="1" filter="url(#bb2)"/>
<rect x="474.6" y="241.6" width="13" height="5" rx="2.5" fill="#222" fill-opacity="1" filter="url(#bb2)"/>
<rect x="489" y="241.3" width="13.7" height="5.8" rx="2.9" fill="#222" fill-opacity="1" filter="url(#bb2)"/>
<rect x="505.3" y="242.8" width="11.9" height="2.6" rx="1.3" fill="#3a3a3a" fill-opacity="1" filter="url(#bb2)"/>
<defs><linearGradient id="hg" x1="0" y1="0" x2="0" y2="1"><stop offset="0" stop-color="#444"/><stop offset="0.35" stop-color="#3a3a3a"/><stop offset="0.55" stop-color="#5a5a5a"/><stop offset="0.8" stop-color="#4a4a4a"/><stop offset="1" stop-color="#707070"/></linearGradient></defs>
<rect x="377.4" y="260.8" width="16.2" height="9.2" rx="1.5" fill="url(#hg)" fill-opacity="0.88" filter="url(#bb)"/>
<rect x="395" y="260.8" width="14.4" height="9.2" rx="1.5" fill="url(#hg)" fill-opacity="0.9" filter="url(#bb)"/>
<rect x="411.4" y="260.8" width="14" height="9.2" rx="1.5" fill="url(#hg)" fill-opacity="0.97" filter="url(#bb)"/>
<rect x="426.9" y="260.8" width="13.9" height="9.2" rx="1.5" fill="url(#hg)" fill-opacity="0.76" filter="url(#bb)"/>
<rect x="442.6" y="260.8" width="13.4" height="9.2" rx="1.5" fill="url(#hg)" fill-opacity="0.8" filter="url(#bb)"/>
<rect x="457.6" y="260.8" width="14" height="9.2" rx="1.5" fill="url(#hg)" fill-opacity="0.8" filter="url(#bb)"/>
<rect x="473.5" y="260.8" width="13.3" height="9.2" rx="1.5" fill="url(#hg)" fill-opacity="0.84" filter="url(#bb)"/>
<rect x="488" y="260.8" width="14.6" height="9.2" rx="1.5" fill="url(#hg)" fill-opacity="0.88" filter="url(#bb)"/>
<rect x="503.2" y="260.8" width="14.4" height="9.2" rx="1.5" fill="url(#hg)" fill-opacity="0.8" filter="url(#bb)"/>
<line x1="377.2" y1="280.4" x2="520" y2="280.4" stroke="#222" stroke-width="1.2"/>
<text x="373.3" y="246" font-size="7" text-anchor="end">P-Ser 10</text>
<text x="373.3" y="267.6" font-size="7" text-anchor="end">Histone 3</text>
<text x="448.8" y="290.6" font-size="7" text-anchor="middle">NCI-H82</text>
<rect x="56" y="302.9" width="15.2" height="9.3" fill="#3550a8"/>
<text x="74.5" y="310.2" font-size="6.9">EV</text>
<rect x="56" y="314.6" width="15.2" height="8.6" fill="#e8282a"/>
<text x="74.5" y="321.6" font-size="6.9">Aurora B WT</text>
<rect x="56" y="326.9" width="15.2" height="8.6" fill="#3fb14e"/>
<text x="74.5" y="333.9" font-size="6.9">Aurora B R159L; E161T</text>
<rect x="219.2" y="300.2" width="15.2" height="7.6" fill="#3550a8"/>
<text x="237.7" y="306.7" font-size="6.9">EV</text>
<rect x="219.2" y="311.5" width="15.2" height="7.7" fill="#e8282a"/>
<text x="237.7" y="318.1" font-size="6.9">Aurora B WT</text>
<rect x="219.2" y="323.2" width="15.2" height="7.7" fill="#3fb14e"/>
<text x="237.7" y="329.7" font-size="6.9">Aurora B R159L; E161T</text>
<line x1="47.5" y1="335.6" x2="47.5" y2="452.5" stroke="#222" stroke-width="1"/>
<line x1="47.5" y1="452.5" x2="124.4" y2="452.5" stroke="#222" stroke-width="1"/>
<line x1="44.3" y1="452.5" x2="47.5" y2="452.5" stroke="#222" stroke-width="1"/>
<text x="41.2" y="454.9" font-size="6.9" text-anchor="end">0</text>
<line x1="44.3" y1="429.2" x2="47.5" y2="429.2" stroke="#222" stroke-width="1"/>
<text x="41.2" y="431.6" font-size="6.9" text-anchor="end">20</text>
<line x1="44.3" y1="405.9" x2="47.5" y2="405.9" stroke="#222" stroke-width="1"/>
<text x="41.2" y="408.3" font-size="6.9" text-anchor="end">40</text>
<line x1="44.3" y1="382.6" x2="47.5" y2="382.6" stroke="#222" stroke-width="1"/>
<text x="41.2" y="385" font-size="6.9" text-anchor="end">60</text>
<line x1="44.3" y1="359.3" x2="47.5" y2="359.3" stroke="#222" stroke-width="1"/>
<text x="41.2" y="361.7" font-size="6.9" text-anchor="end">80</text>
<line x1="44.3" y1="335.9" x2="47.5" y2="335.9" stroke="#222" stroke-width="1"/>
<text x="41.2" y="338.3" font-size="6.9" text-anchor="end">100</text>
<line x1="86.5" y1="452.5" x2="86.5" y2="454.7" stroke="#222" stroke-width="1"/>
<text x="86.5" y="464.5" font-size="6.8" text-anchor="middle">16</text>
<line x1="79.4" y1="370.9" x2="79.4" y2="370.2" stroke="#3550a8" stroke-width="1.2"/>
<line x1="77.4" y1="370.2" x2="81.4" y2="370.2" stroke="#3550a8" stroke-width="1.2"/>
<path d="M75.8 452.5V372.1q0 -1.2 1.2 -1.2h4.8q1.2 0 1.2 1.2V452.5z" fill="#3550a8"/>
<line x1="86.5" y1="374.4" x2="86.5" y2="370.9" stroke="#e8282a" stroke-width="1.2"/>
<line x1="84.5" y1="370.9" x2="88.5" y2="370.9" stroke="#e8282a" stroke-width="1.2"/>
<path d="M83 452.5V375.6q0 -1.2 1.2 -1.2h4.8q1.2 0 1.2 1.2V452.5z" fill="#e8282a"/>
<line x1="93.7" y1="417.5" x2="93.7" y2="412.9" stroke="#3fb14e" stroke-width="1.2"/>
<line x1="91.7" y1="412.9" x2="95.7" y2="412.9" stroke="#3fb14e" stroke-width="1.2"/>
<path d="M90.1 452.5V418.7q0 -1.2 1.2 -1.2h4.8q1.2 0 1.2 1.2V452.5z" fill="#3fb14e"/>
<line x1="113.3" y1="452.5" x2="113.3" y2="454.7" stroke="#222" stroke-width="1"/>
<text x="113.3" y="464.5" font-size="6.8" text-anchor="middle">32</text>
<line x1="106.2" y1="359.8" x2="106.2" y2="354.6" stroke="#3550a8" stroke-width="1.2"/>
<line x1="104.2" y1="354.6" x2="108.2" y2="354.6" stroke="#3550a8" stroke-width="1.2"/>
<path d="M102.6 452.5V361q0 -1.2 1.2 -1.2h4.8q1.2 0 1.2 1.2V452.5z" fill="#3550a8"/>
<line x1="113.3" y1="363.3" x2="113.3" y2="361" stroke="#e8282a" stroke-width="1.2"/>
<line x1="111.3" y1="361" x2="115.3" y2="361" stroke="#e8282a" stroke-width="1.2"/>
<path d="M109.8 452.5V364.5q0 -1.2 1.2 -1.2h4.8q1.2 0 1.2 1.2V452.5z" fill="#e8282a"/>
<line x1="120.5" y1="390.1" x2="120.5" y2="386.1" stroke="#3fb14e" stroke-width="1.2"/>
<line x1="118.5" y1="386.1" x2="122.5" y2="386.1" stroke="#3fb14e" stroke-width="1.2"/>
<path d="M116.9 452.5V391.3q0 -1.2 1.2 -1.2h4.8q1.2 0 1.2 1.2V452.5z" fill="#3fb14e"/>
<text x="0" y="0" font-size="7.3" text-anchor="middle" transform="translate(22.3,394) rotate(-90)">Growth inhibition (%)</text>
<text x="86.5" y="477.6" font-size="6.8" text-anchor="middle">AZD2811 (nmol/L)</text>
<line x1="60.8" y1="452.5" x2="60.8" y2="454.7" stroke="#222" stroke-width="1"/>
<text x="60.8" y="464.5" font-size="6.8" text-anchor="middle">0</text>
<line x1="77.3" y1="357.3" x2="97.3" y2="357.3" stroke="#222" stroke-width="1.1"/>
<text x="86.8" y="356.8" font-size="6.9" text-anchor="middle" font-weight="bold">**</text>
<line x1="84.1" y1="365.3" x2="97.3" y2="365.3" stroke="#222" stroke-width="1.1"/>
<text x="90.3" y="364.6" font-size="6.9" text-anchor="middle" font-weight="bold">**</text>
<line x1="103.1" y1="346.9" x2="125" y2="346.9" stroke="#222" stroke-width="1.1"/>
<text x="113.4" y="345.9" font-size="6.9" text-anchor="middle" font-weight="bold">*</text>
<line x1="111.9" y1="355.8" x2="125" y2="355.8" stroke="#222" stroke-width="1.1"/>
<text x="118.5" y="355.1" font-size="6.9" text-anchor="middle" font-weight="bold">*</text>
<line x1="212.5" y1="333.7" x2="212.5" y2="452.5" stroke="#222" stroke-width="1"/>
<line x1="212.5" y1="452.5" x2="291.6" y2="452.5" stroke="#222" stroke-width="1"/>
<line x1="209.3" y1="452.5" x2="212.5" y2="452.5" stroke="#222" stroke-width="1"/>
<text x="206.2" y="454.9" font-size="6.9" text-anchor="end">0</text>
<line x1="209.3" y1="413" x2="212.5" y2="413" stroke="#222" stroke-width="1"/>
<text x="206.2" y="415.4" font-size="6.9" text-anchor="end">20</text>
<line x1="209.3" y1="373.5" x2="212.5" y2="373.5" stroke="#222" stroke-width="1"/>
<text x="206.2" y="375.9" font-size="6.9" text-anchor="end">40</text>
<line x1="209.3" y1="334" x2="212.5" y2="334" stroke="#222" stroke-width="1"/>
<text x="206.2" y="336.4" font-size="6.9" text-anchor="end">60</text>
<line x1="224.7" y1="452.5" x2="224.7" y2="454.7" stroke="#222" stroke-width="1"/>
<text x="224.7" y="464.5" font-size="6.8" text-anchor="middle">0</text>
<line x1="217.7" y1="435.5" x2="217.7" y2="434.9" stroke="#3550a8" stroke-width="1.2"/>
<line x1="215.7" y1="434.9" x2="219.7" y2="434.9" stroke="#3550a8" stroke-width="1.2"/>
<path d="M214.2 452.5V436.7q0 -1.2 1.2 -1.2h4.6q1.2 0 1.2 1.2V452.5z" fill="#3550a8"/>
<line x1="224.7" y1="436.3" x2="224.7" y2="435.7" stroke="#e8282a" stroke-width="1.2"/>
<line x1="222.7" y1="435.7" x2="226.7" y2="435.7" stroke="#e8282a" stroke-width="1.2"/>
<path d="M221.2 452.5V437.5q0 -1.2 1.2 -1.2h4.6q1.2 0 1.2 1.2V452.5z" fill="#e8282a"/>
<line x1="231.7" y1="434.7" x2="231.7" y2="434.1" stroke="#3fb14e" stroke-width="1.2"/>
<line x1="229.7" y1="434.1" x2="233.7" y2="434.1" stroke="#3fb14e" stroke-width="1.2"/>
<path d="M228.2 452.5V435.9q0 -1.2 1.2 -1.2h4.6q1.2 0 1.2 1.2V452.5z" fill="#3fb14e"/>
<line x1="251.5" y1="452.5" x2="251.5" y2="454.7" stroke="#222" stroke-width="1"/>
<text x="251.5" y="464.5" font-size="6.8" text-anchor="middle">16</text>
<line x1="244.5" y1="389.3" x2="244.5" y2="388.3" stroke="#3550a8" stroke-width="1.2"/>
<line x1="242.5" y1="388.3" x2="246.5" y2="388.3" stroke="#3550a8" stroke-width="1.2"/>
<path d="M241 452.5V390.5q0 -1.2 1.2 -1.2h4.6q1.2 0 1.2 1.2V452.5z" fill="#3550a8"/>
<line x1="251.5" y1="382.4" x2="251.5" y2="381.2" stroke="#e8282a" stroke-width="1.2"/>
<line x1="249.5" y1="381.2" x2="253.5" y2="381.2" stroke="#e8282a" stroke-width="1.2"/>
<path d="M248 452.5V383.6q0 -1.2 1.2 -1.2h4.6q1.2 0 1.2 1.2V452.5z" fill="#e8282a"/>
<line x1="258.5" y1="416.4" x2="258.5" y2="415.4" stroke="#3fb14e" stroke-width="1.2"/>
<line x1="256.5" y1="415.4" x2="260.5" y2="415.4" stroke="#3fb14e" stroke-width="1.2"/>
<path d="M255 452.5V417.6q0 -1.2 1.2 -1.2h4.6q1.2 0 1.2 1.2V452.5z" fill="#3fb14e"/>
<line x1="278.6" y1="452.5" x2="278.6" y2="454.7" stroke="#222" stroke-width="1"/>
<text x="278.6" y="464.5" font-size="6.8" text-anchor="middle">32</text>
<line x1="271.6" y1="365.6" x2="271.6" y2="360.3" stroke="#3550a8" stroke-width="1.2"/>
<line x1="269.6" y1="360.3" x2="273.6" y2="360.3" stroke="#3550a8" stroke-width="1.2"/>
<path d="M268.1 452.5V366.8q0 -1.2 1.2 -1.2h4.6q1.2 0 1.2 1.2V452.5z" fill="#3550a8"/>
<line x1="278.6" y1="359.3" x2="278.6" y2="358.5" stroke="#e8282a" stroke-width="1.2"/>
<line x1="276.6" y1="358.5" x2="280.6" y2="358.5" stroke="#e8282a" stroke-width="1.2"/>
<path d="M275.1 452.5V360.5q0 -1.2 1.2 -1.2h4.6q1.2 0 1.2 1.2V452.5z" fill="#e8282a"/>
<line x1="285.6" y1="398.8" x2="285.6" y2="395.2" stroke="#3fb14e" stroke-width="1.2"/>
<line x1="283.6" y1="395.2" x2="287.6" y2="395.2" stroke="#3fb14e" stroke-width="1.2"/>
<path d="M282.1 452.5V400q0 -1.2 1.2 -1.2h4.6q1.2 0 1.2 1.2V452.5z" fill="#3fb14e"/>
<text x="0" y="0" font-size="7.3" text-anchor="middle" transform="translate(189.6,392.3) rotate(-90)">Polyploidy (% of cells)</text>
<text x="251.5" y="475.7" font-size="6.8" text-anchor="middle">AZD2811 (nmol/L)</text>
<line x1="241.9" y1="354.4" x2="262.6" y2="354.4" stroke="#222" stroke-width="1.1"/>
<text x="251.7" y="352.1" font-size="6.9" text-anchor="middle" font-weight="bold">**</text>
<line x1="248.3" y1="365.1" x2="262.6" y2="365.1" stroke="#222" stroke-width="1.1"/>
<text x="254.6" y="363.6" font-size="6.9" text-anchor="middle" font-weight="bold">***</text>
<line x1="272.2" y1="341.4" x2="297.6" y2="341.4" stroke="#222" stroke-width="1.1"/>
<text x="285" y="339.1" font-size="6.9" text-anchor="middle" font-weight="bold">*</text>
<line x1="277.8" y1="351.6" x2="296.8" y2="351.6" stroke="#222" stroke-width="1.1"/>
<text x="286.3" y="350.6" font-size="6.9" text-anchor="middle" font-weight="bold">**</text></svg></body></html>
